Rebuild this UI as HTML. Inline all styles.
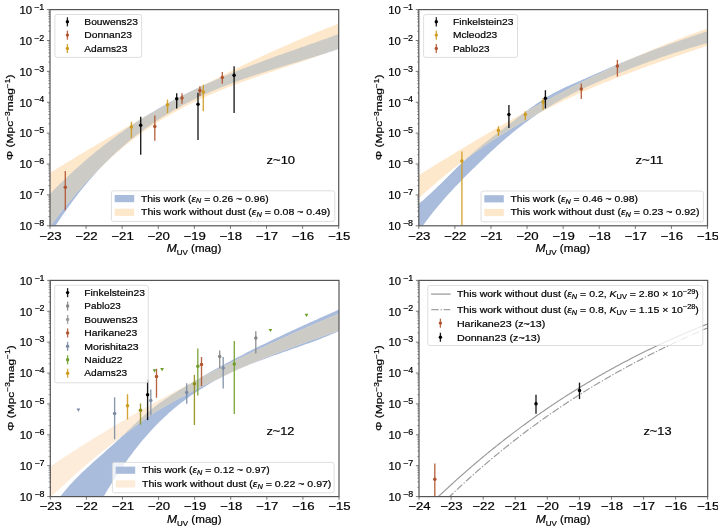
<!DOCTYPE html>
<html><head><meta charset="utf-8"><style>
html,body{margin:0;padding:0;background:#fff;width:718px;height:526px;overflow:hidden;font-family:"Liberation Sans",sans-serif;}
body{position:relative;filter:blur(0.3px);}
svg{display:block;}
</style></head><body>
<svg width="718" height="526" viewBox="0 0 718 526" style="position:absolute;left:0;top:0"><defs><clipPath id="clip1"><rect x="50" y="9.6" width="288.7" height="216.2"/></clipPath><clipPath id="bclip1"><path d="M48,196.03 L50,193.96 L52,191.9 L54,189.86 L56,187.84 L58,185.84 L60,183.86 L62,181.9 L64,179.96 L66,178.05 L68,176.15 L70,174.27 L72,172.41 L74,170.57 L76,168.75 L78,166.95 L80,165.17 L82,163.41 L84,161.67 L86,159.95 L88,158.24 L90,156.55 L92,154.88 L94,153.23 L96,151.6 L98,149.98 L100,148.38 L102,146.8 L104,145.24 L106,143.69 L108,142.16 L110,140.64 L112,139.15 L114,137.67 L116,136.2 L118,134.75 L120,133.32 L122,131.9 L124,130.5 L126,129.11 L128,127.74 L130,126.38 L132,125.04 L134,123.71 L136,122.4 L138,121.1 L140,119.81 L142,118.54 L144,117.28 L146,116.04 L148,114.81 L150,113.59 L152,112.39 L154,111.2 L156,110.02 L158,108.85 L160,107.7 L162,106.56 L164,105.43 L166,104.31 L168,103.21 L170,102.11 L172,101.03 L174,99.96 L176,98.9 L178,97.85 L180,96.81 L182,95.78 L184,94.77 L186,93.76 L188,92.76 L190,91.77 L192,90.8 L194,89.83 L196,88.87 L198,87.92 L200,86.98 L202,86.05 L204,85.12 L206,84.21 L208,83.3 L210,82.41 L212,81.52 L214,80.63 L216,79.76 L218,78.89 L220,78.03 L222,77.18 L224,76.34 L226,75.5 L228,74.67 L230,73.84 L232,73.02 L234,72.21 L236,71.4 L238,70.6 L240,69.81 L242,69.02 L244,68.24 L246,67.46 L248,66.68 L250,65.92 L252,65.15 L254,64.39 L256,63.64 L258,62.89 L260,62.14 L262,61.4 L264,60.66 L266,59.92 L268,59.19 L270,58.46 L272,57.73 L274,57.01 L276,56.29 L278,55.57 L280,54.85 L282,54.14 L284,53.43 L286,52.72 L288,52.01 L290,51.3 L292,50.6 L294,49.89 L296,49.19 L298,48.49 L300,47.79 L302,47.09 L304,46.38 L306,45.68 L308,44.98 L310,44.28 L312,43.58 L314,42.88 L316,42.18 L318,41.47 L320,40.77 L322,40.06 L324,39.36 L326,38.65 L328,37.94 L330,37.23 L332,36.51 L334,35.8 L336,35.08 L338,34.36 L340,33.64 L340.7,33.38 L340.7,48.26 L340,48.5 L338,49.17 L336,49.85 L334,50.52 L332,51.18 L330,51.84 L328,52.49 L326,53.14 L324,53.78 L322,54.41 L320,55.05 L318,55.67 L316,56.3 L314,56.92 L312,57.54 L310,58.15 L308,58.76 L306,59.37 L304,59.98 L302,60.59 L300,61.2 L298,61.8 L296,62.4 L294,63.01 L292,63.61 L290,64.21 L288,64.82 L286,65.42 L284,66.03 L282,66.64 L280,67.24 L278,67.86 L276,68.47 L274,69.09 L272,69.71 L270,70.33 L268,70.95 L266,71.58 L264,72.22 L262,72.86 L260,73.5 L258,74.15 L256,74.8 L254,75.46 L252,76.13 L250,76.8 L248,77.48 L246,78.17 L244,78.86 L242,79.56 L240,80.27 L238,80.99 L236,81.71 L234,82.44 L232,83.19 L230,83.94 L228,84.7 L226,85.47 L224,86.26 L222,87.05 L220,87.85 L218,88.67 L216,89.5 L214,90.34 L212,91.19 L210,92.05 L208,92.93 L206,93.81 L204,94.72 L202,95.63 L200,96.56 L198,97.51 L196,98.47 L194,99.44 L192,100.43 L190,101.44 L188,102.46 L186,103.49 L184,104.55 L182,105.62 L180,106.7 L178,107.81 L176,108.93 L174,110.07 L172,111.23 L170,112.41 L168,113.6 L166,114.82 L164,116.05 L162,117.31 L160,118.58 L158,119.87 L156,121.19 L154,122.53 L152,123.88 L150,125.26 L148,126.67 L146,128.09 L144,129.54 L142,131.01 L140,132.5 L138,134.02 L136,135.56 L134,137.13 L132,138.73 L130,140.35 L128,142.01 L126,143.69 L124,145.4 L122,147.13 L120,148.9 L118,150.7 L116,152.53 L114,154.4 L112,156.29 L110,158.22 L108,160.19 L106,162.18 L104,164.22 L102,166.28 L100,168.39 L98,170.53 L96,172.71 L94,174.93 L92,177.18 L90,179.48 L88,181.81 L86,184.19 L84,186.61 L82,189.07 L80,191.57 L78,194.11 L76,196.7 L74,199.34 L72,202.01 L70,204.74 L68,207.51 L66,210.32 L64,213.19 L62,216.1 L60,219.06 L58,222.07 L56,225.12 L54,228.18 L52,231.24 L50,234.3 L48,237.36Z"/></clipPath><clipPath id="clip2"><rect x="418.8" y="9.6" width="288.7" height="216.2"/></clipPath><clipPath id="bclip2"><path d="M416.8,205.4 L418.8,203.73 L420.8,202.06 L422.8,200.38 L424.8,198.64 L426.8,196.87 L428.8,195.07 L430.8,193.23 L432.8,191.36 L434.8,189.46 L436.8,187.54 L438.8,185.6 L440.8,183.64 L442.8,181.68 L444.8,179.7 L446.8,177.71 L448.8,175.73 L450.8,173.74 L452.8,171.76 L454.8,169.78 L456.8,167.82 L458.8,165.87 L460.8,163.94 L462.8,162.03 L464.8,160.14 L466.8,158.29 L468.8,156.46 L470.8,154.67 L472.8,152.91 L474.8,151.19 L476.8,149.49 L478.8,147.83 L480.8,146.19 L482.8,144.57 L484.8,142.98 L486.8,141.4 L488.8,139.84 L490.8,138.29 L492.8,136.75 L494.8,135.22 L496.8,133.7 L498.8,132.17 L500.8,130.65 L502.8,129.13 L504.8,127.6 L506.8,126.06 L508.8,124.52 L510.8,122.98 L512.8,121.44 L514.8,119.9 L516.8,118.36 L518.8,116.83 L520.8,115.31 L522.8,113.8 L524.8,112.29 L526.8,110.8 L528.8,109.33 L530.8,107.87 L532.8,106.43 L534.8,105.01 L536.8,103.62 L538.8,102.25 L540.8,100.91 L542.8,99.6 L544.8,98.32 L546.8,97.08 L548.8,95.87 L550.8,94.7 L552.8,93.57 L554.8,92.48 L556.8,91.43 L558.8,90.41 L560.8,89.42 L562.8,88.46 L564.8,87.52 L566.8,86.6 L568.8,85.7 L570.8,84.81 L572.8,83.93 L574.8,83.07 L576.8,82.2 L578.8,81.34 L580.8,80.48 L582.8,79.61 L584.8,78.74 L586.8,77.87 L588.8,76.99 L590.8,76.11 L592.8,75.23 L594.8,74.35 L596.8,73.47 L598.8,72.59 L600.8,71.71 L602.8,70.83 L604.8,69.95 L606.8,69.07 L608.8,68.2 L610.8,67.33 L612.8,66.47 L614.8,65.61 L616.8,64.75 L618.8,63.9 L620.8,63.06 L622.8,62.23 L624.8,61.4 L626.8,60.57 L628.8,59.75 L630.8,58.94 L632.8,58.13 L634.8,57.33 L636.8,56.54 L638.8,55.75 L640.8,54.96 L642.8,54.18 L644.8,53.41 L646.8,52.64 L648.8,51.87 L650.8,51.11 L652.8,50.36 L654.8,49.61 L656.8,48.86 L658.8,48.12 L660.8,47.38 L662.8,46.65 L664.8,45.92 L666.8,45.2 L668.8,44.48 L670.8,43.76 L672.8,43.05 L674.8,42.34 L676.8,41.63 L678.8,40.93 L680.8,40.23 L682.8,39.53 L684.8,38.84 L686.8,38.15 L688.8,37.47 L690.8,36.78 L692.8,36.1 L694.8,35.43 L696.8,34.75 L698.8,34.08 L700.8,33.41 L702.8,32.74 L704.8,32.08 L706.8,31.42 L708.8,30.75 L709.5,30.52 L709.5,42.51 L708.8,42.7 L706.8,43.24 L704.8,43.79 L702.8,44.34 L700.8,44.9 L698.8,45.47 L696.8,46.05 L694.8,46.63 L692.8,47.22 L690.8,47.82 L688.8,48.42 L686.8,49.03 L684.8,49.65 L682.8,50.27 L680.8,50.9 L678.8,51.54 L676.8,52.18 L674.8,52.83 L672.8,53.49 L670.8,54.15 L668.8,54.82 L666.8,55.5 L664.8,56.18 L662.8,56.86 L660.8,57.56 L658.8,58.25 L656.8,58.96 L654.8,59.67 L652.8,60.38 L650.8,61.1 L648.8,61.83 L646.8,62.56 L644.8,63.29 L642.8,64.04 L640.8,64.78 L638.8,65.53 L636.8,66.29 L634.8,67.05 L632.8,67.81 L630.8,68.58 L628.8,69.36 L626.8,70.14 L624.8,70.92 L622.8,71.71 L620.8,72.5 L618.8,73.3 L616.8,74.1 L614.8,74.9 L612.8,75.71 L610.8,76.52 L608.8,77.34 L606.8,78.17 L604.8,79 L602.8,79.84 L600.8,80.68 L598.8,81.54 L596.8,82.4 L594.8,83.27 L592.8,84.15 L590.8,85.04 L588.8,85.95 L586.8,86.86 L584.8,87.78 L582.8,88.72 L580.8,89.66 L578.8,90.62 L576.8,91.6 L574.8,92.59 L572.8,93.59 L570.8,94.6 L568.8,95.63 L566.8,96.68 L564.8,97.74 L562.8,98.82 L560.8,99.92 L558.8,101.03 L556.8,102.17 L554.8,103.32 L552.8,104.49 L550.8,105.67 L548.8,106.88 L546.8,108.11 L544.8,109.36 L542.8,110.63 L540.8,111.93 L538.8,113.24 L536.8,114.58 L534.8,115.94 L532.8,117.33 L530.8,118.74 L528.8,120.17 L526.8,121.63 L524.8,123.12 L522.8,124.63 L520.8,126.17 L518.8,127.73 L516.8,129.31 L514.8,130.92 L512.8,132.55 L510.8,134.21 L508.8,135.89 L506.8,137.58 L504.8,139.3 L502.8,141.04 L500.8,142.8 L498.8,144.57 L496.8,146.37 L494.8,148.18 L492.8,150.01 L490.8,151.86 L488.8,153.72 L486.8,155.59 L484.8,157.48 L482.8,159.39 L480.8,161.31 L478.8,163.24 L476.8,165.18 L474.8,167.13 L472.8,169.1 L470.8,171.08 L468.8,173.06 L466.8,175.06 L464.8,177.07 L462.8,179.09 L460.8,181.13 L458.8,183.19 L456.8,185.27 L454.8,187.37 L452.8,189.5 L450.8,191.65 L448.8,193.84 L446.8,196.05 L444.8,198.3 L442.8,200.58 L440.8,202.9 L438.8,205.25 L436.8,207.65 L434.8,210.1 L432.8,212.58 L430.8,215.12 L428.8,217.7 L426.8,220.33 L424.8,223.02 L422.8,225.76 L420.8,228.52 L418.8,231.27 L416.8,234.02Z"/></clipPath><clipPath id="clip3"><rect x="50.3" y="280.4" width="288.7" height="216.2"/></clipPath><clipPath id="bclip3"><path d="M48.3,511.56 L50.3,509.04 L52.3,506.52 L54.3,504.01 L56.3,501.49 L58.3,498.97 L60.3,496.45 L62.3,493.95 L64.3,491.5 L66.3,489.14 L68.3,486.84 L70.3,484.62 L72.3,482.45 L74.3,480.34 L76.3,478.28 L78.3,476.27 L80.3,474.3 L82.3,472.37 L84.3,470.47 L86.3,468.6 L88.3,466.76 L90.3,464.93 L92.3,463.12 L94.3,461.32 L96.3,459.52 L98.3,457.74 L100.3,455.96 L102.3,454.18 L104.3,452.4 L106.3,450.61 L108.3,448.83 L110.3,447.04 L112.3,445.24 L114.3,443.43 L116.3,441.6 L118.3,439.77 L120.3,437.91 L122.3,436.04 L124.3,434.15 L126.3,432.24 L128.3,430.33 L130.3,428.42 L132.3,426.5 L134.3,424.6 L136.3,422.7 L138.3,420.83 L140.3,418.97 L142.3,417.14 L144.3,415.34 L146.3,413.58 L148.3,411.86 L150.3,410.18 L152.3,408.56 L154.3,406.99 L156.3,405.46 L158.3,403.98 L160.3,402.54 L162.3,401.14 L164.3,399.78 L166.3,398.44 L168.3,397.13 L170.3,395.84 L172.3,394.57 L174.3,393.31 L176.3,392.07 L178.3,390.84 L180.3,389.61 L182.3,388.39 L184.3,387.18 L186.3,385.97 L188.3,384.78 L190.3,383.59 L192.3,382.4 L194.3,381.23 L196.3,380.06 L198.3,378.9 L200.3,377.74 L202.3,376.59 L204.3,375.45 L206.3,374.31 L208.3,373.19 L210.3,372.06 L212.3,370.95 L214.3,369.84 L216.3,368.73 L218.3,367.63 L220.3,366.54 L222.3,365.46 L224.3,364.38 L226.3,363.3 L228.3,362.23 L230.3,361.17 L232.3,360.11 L234.3,359.06 L236.3,358.02 L238.3,356.97 L240.3,355.94 L242.3,354.91 L244.3,353.88 L246.3,352.86 L248.3,351.85 L250.3,350.83 L252.3,349.83 L254.3,348.83 L256.3,347.83 L258.3,346.84 L260.3,345.85 L262.3,344.86 L264.3,343.88 L266.3,342.91 L268.3,341.94 L270.3,340.97 L272.3,340.01 L274.3,339.05 L276.3,338.09 L278.3,337.14 L280.3,336.19 L282.3,335.25 L284.3,334.3 L286.3,333.37 L288.3,332.43 L290.3,331.5 L292.3,330.57 L294.3,329.65 L296.3,328.73 L298.3,327.81 L300.3,326.89 L302.3,325.98 L304.3,325.07 L306.3,324.16 L308.3,323.25 L310.3,322.35 L312.3,321.45 L314.3,320.55 L316.3,319.65 L318.3,318.76 L320.3,317.86 L322.3,316.97 L324.3,316.09 L326.3,315.2 L328.3,314.31 L330.3,313.43 L332.3,312.55 L334.3,311.67 L336.3,310.79 L338.3,309.91 L340.3,309.04 L341,308.73 L341,330.22 L340.3,330.53 L338.3,331.42 L336.3,332.3 L334.3,333.17 L332.3,334.03 L330.3,334.86 L328.3,335.69 L326.3,336.51 L324.3,337.31 L322.3,338.1 L320.3,338.88 L318.3,339.65 L316.3,340.42 L314.3,341.17 L312.3,341.91 L310.3,342.65 L308.3,343.38 L306.3,344.11 L304.3,344.83 L302.3,345.54 L300.3,346.25 L298.3,346.96 L296.3,347.66 L294.3,348.36 L292.3,349.06 L290.3,349.75 L288.3,350.45 L286.3,351.14 L284.3,351.84 L282.3,352.54 L280.3,353.23 L278.3,353.93 L276.3,354.64 L274.3,355.34 L272.3,356.05 L270.3,356.77 L268.3,357.49 L266.3,358.22 L264.3,358.95 L262.3,359.69 L260.3,360.44 L258.3,361.19 L256.3,361.96 L254.3,362.73 L252.3,363.51 L250.3,364.31 L248.3,365.11 L246.3,365.93 L244.3,366.76 L242.3,367.6 L240.3,368.46 L238.3,369.33 L236.3,370.21 L234.3,371.12 L232.3,372.03 L230.3,372.97 L228.3,373.92 L226.3,374.89 L224.3,375.87 L222.3,376.88 L220.3,377.91 L218.3,378.95 L216.3,380.02 L214.3,381.11 L212.3,382.22 L210.3,383.35 L208.3,384.51 L206.3,385.69 L204.3,386.9 L202.3,388.13 L200.3,389.38 L198.3,390.67 L196.3,391.97 L194.3,393.31 L192.3,394.68 L190.3,396.07 L188.3,397.49 L186.3,398.95 L184.3,400.43 L182.3,401.95 L180.3,403.5 L178.3,405.09 L176.3,406.71 L174.3,408.37 L172.3,410.07 L170.3,411.8 L168.3,413.57 L166.3,415.38 L164.3,417.24 L162.3,419.13 L160.3,421.07 L158.3,423.05 L156.3,425.08 L154.3,427.15 L152.3,429.27 L150.3,431.43 L148.3,433.65 L146.3,435.91 L144.3,438.22 L142.3,440.59 L140.3,443 L138.3,445.47 L136.3,447.99 L134.3,450.57 L132.3,453.2 L130.3,455.88 L128.3,458.61 L126.3,461.39 L124.3,464.23 L122.3,467.12 L120.3,470.06 L118.3,473.05 L116.3,476.09 L114.3,479.18 L112.3,482.33 L110.3,485.52 L108.3,488.77 L106.3,492.06 L104.3,495.41 L102.3,498.8 L100.3,502.21 L98.3,505.62 L96.3,509.03 L94.3,512.44 L92.3,515.84 L90.3,519.25 L88.3,522.66 L86.3,526.07 L84.3,529.48 L82.3,532.88 L80.3,536.29 L78.3,539.7 L76.3,543.11 L74.3,546.52 L72.3,549.92 L70.3,553.33 L68.3,556.74 L66.3,560.15 L64.3,563.56 L62.3,566.96 L60.3,570.37 L58.3,573.78 L56.3,577.19 L54.3,580.6 L52.3,584.01 L50.3,587.41 L48.3,590.82Z"/></clipPath><clipPath id="clip4"><rect x="419" y="280.4" width="288.7" height="216.2"/></clipPath></defs><rect x="0" y="0" width="718" height="526" fill="#fff"/>
<g clip-path="url(#clip1)"><path d="M48,196.03 L50,193.96 L52,191.9 L54,189.86 L56,187.84 L58,185.84 L60,183.86 L62,181.9 L64,179.96 L66,178.05 L68,176.15 L70,174.27 L72,172.41 L74,170.57 L76,168.75 L78,166.95 L80,165.17 L82,163.41 L84,161.67 L86,159.95 L88,158.24 L90,156.55 L92,154.88 L94,153.23 L96,151.6 L98,149.98 L100,148.38 L102,146.8 L104,145.24 L106,143.69 L108,142.16 L110,140.64 L112,139.15 L114,137.67 L116,136.2 L118,134.75 L120,133.32 L122,131.9 L124,130.5 L126,129.11 L128,127.74 L130,126.38 L132,125.04 L134,123.71 L136,122.4 L138,121.1 L140,119.81 L142,118.54 L144,117.28 L146,116.04 L148,114.81 L150,113.59 L152,112.39 L154,111.2 L156,110.02 L158,108.85 L160,107.7 L162,106.56 L164,105.43 L166,104.31 L168,103.21 L170,102.11 L172,101.03 L174,99.96 L176,98.9 L178,97.85 L180,96.81 L182,95.78 L184,94.77 L186,93.76 L188,92.76 L190,91.77 L192,90.8 L194,89.83 L196,88.87 L198,87.92 L200,86.98 L202,86.05 L204,85.12 L206,84.21 L208,83.3 L210,82.41 L212,81.52 L214,80.63 L216,79.76 L218,78.89 L220,78.03 L222,77.18 L224,76.34 L226,75.5 L228,74.67 L230,73.84 L232,73.02 L234,72.21 L236,71.4 L238,70.6 L240,69.81 L242,69.02 L244,68.24 L246,67.46 L248,66.68 L250,65.92 L252,65.15 L254,64.39 L256,63.64 L258,62.89 L260,62.14 L262,61.4 L264,60.66 L266,59.92 L268,59.19 L270,58.46 L272,57.73 L274,57.01 L276,56.29 L278,55.57 L280,54.85 L282,54.14 L284,53.43 L286,52.72 L288,52.01 L290,51.3 L292,50.6 L294,49.89 L296,49.19 L298,48.49 L300,47.79 L302,47.09 L304,46.38 L306,45.68 L308,44.98 L310,44.28 L312,43.58 L314,42.88 L316,42.18 L318,41.47 L320,40.77 L322,40.06 L324,39.36 L326,38.65 L328,37.94 L330,37.23 L332,36.51 L334,35.8 L336,35.08 L338,34.36 L340,33.64 L340.7,33.38 L340.7,48.26 L340,48.5 L338,49.17 L336,49.85 L334,50.52 L332,51.18 L330,51.84 L328,52.49 L326,53.14 L324,53.78 L322,54.41 L320,55.05 L318,55.67 L316,56.3 L314,56.92 L312,57.54 L310,58.15 L308,58.76 L306,59.37 L304,59.98 L302,60.59 L300,61.2 L298,61.8 L296,62.4 L294,63.01 L292,63.61 L290,64.21 L288,64.82 L286,65.42 L284,66.03 L282,66.64 L280,67.24 L278,67.86 L276,68.47 L274,69.09 L272,69.71 L270,70.33 L268,70.95 L266,71.58 L264,72.22 L262,72.86 L260,73.5 L258,74.15 L256,74.8 L254,75.46 L252,76.13 L250,76.8 L248,77.48 L246,78.17 L244,78.86 L242,79.56 L240,80.27 L238,80.99 L236,81.71 L234,82.44 L232,83.19 L230,83.94 L228,84.7 L226,85.47 L224,86.26 L222,87.05 L220,87.85 L218,88.67 L216,89.5 L214,90.34 L212,91.19 L210,92.05 L208,92.93 L206,93.81 L204,94.72 L202,95.63 L200,96.56 L198,97.51 L196,98.47 L194,99.44 L192,100.43 L190,101.44 L188,102.46 L186,103.49 L184,104.55 L182,105.62 L180,106.7 L178,107.81 L176,108.93 L174,110.07 L172,111.23 L170,112.41 L168,113.6 L166,114.82 L164,116.05 L162,117.31 L160,118.58 L158,119.87 L156,121.19 L154,122.53 L152,123.88 L150,125.26 L148,126.67 L146,128.09 L144,129.54 L142,131.01 L140,132.5 L138,134.02 L136,135.56 L134,137.13 L132,138.73 L130,140.35 L128,142.01 L126,143.69 L124,145.4 L122,147.13 L120,148.9 L118,150.7 L116,152.53 L114,154.4 L112,156.29 L110,158.22 L108,160.19 L106,162.18 L104,164.22 L102,166.28 L100,168.39 L98,170.53 L96,172.71 L94,174.93 L92,177.18 L90,179.48 L88,181.81 L86,184.19 L84,186.61 L82,189.07 L80,191.57 L78,194.11 L76,196.7 L74,199.34 L72,202.01 L70,204.74 L68,207.51 L66,210.32 L64,213.19 L62,216.1 L60,219.06 L58,222.07 L56,225.12 L54,228.18 L52,231.24 L50,234.3 L48,237.36Z" fill="#a9bcdb"/><path d="M48,174.06 L50,172.83 L52,171.6 L54,170.38 L56,169.15 L58,167.93 L60,166.71 L62,165.49 L64,164.27 L66,163.05 L68,161.84 L70,160.63 L72,159.42 L74,158.21 L76,157 L78,155.8 L80,154.6 L82,153.4 L84,152.2 L86,151 L88,149.81 L90,148.62 L92,147.43 L94,146.24 L96,145.06 L98,143.87 L100,142.69 L102,141.51 L104,140.34 L106,139.16 L108,137.99 L110,136.82 L112,135.66 L114,134.49 L116,133.33 L118,132.17 L120,131.01 L122,129.86 L124,128.7 L126,127.55 L128,126.41 L130,125.26 L132,124.12 L134,122.98 L136,121.84 L138,120.71 L140,119.58 L142,118.45 L144,117.32 L146,116.2 L148,115.07 L150,113.96 L152,112.84 L154,111.73 L156,110.62 L158,109.51 L160,108.4 L162,107.3 L164,106.2 L166,105.11 L168,104.01 L170,102.92 L172,101.84 L174,100.75 L176,99.67 L178,98.59 L180,97.52 L182,96.45 L184,95.38 L186,94.31 L188,93.25 L190,92.19 L192,91.13 L194,90.08 L196,89.03 L198,87.98 L200,86.94 L202,85.9 L204,84.86 L206,83.82 L208,82.79 L210,81.77 L212,80.74 L214,79.72 L216,78.7 L218,77.69 L220,76.68 L222,75.67 L224,74.67 L226,73.67 L228,72.67 L230,71.68 L232,70.69 L234,69.7 L236,68.72 L238,67.74 L240,66.77 L242,65.8 L244,64.83 L246,63.87 L248,62.91 L250,61.95 L252,61 L254,60.05 L256,59.1 L258,58.16 L260,57.22 L262,56.29 L264,55.36 L266,54.43 L268,53.51 L270,52.59 L272,51.68 L274,50.77 L276,49.86 L278,48.96 L280,48.06 L282,47.17 L284,46.28 L286,45.39 L288,44.51 L290,43.63 L292,42.76 L294,41.89 L296,41.02 L298,40.16 L300,39.31 L302,38.45 L304,37.61 L306,36.76 L308,35.92 L310,35.09 L312,34.26 L314,33.43 L316,32.61 L318,31.79 L320,30.98 L322,30.17 L324,29.36 L326,28.56 L328,27.77 L330,26.98 L332,26.19 L334,25.41 L336,24.63 L338,23.86 L340,23.09 L340.7,22.82 L340.7,47.43 L340,47.71 L338,48.49 L336,49.27 L334,50.05 L332,50.81 L330,51.57 L328,52.33 L326,53.07 L324,53.81 L322,54.54 L320,55.27 L318,55.98 L316,56.7 L314,57.41 L312,58.11 L310,58.81 L308,59.51 L306,60.2 L304,60.88 L302,61.57 L300,62.25 L298,62.93 L296,63.6 L294,64.28 L292,64.95 L290,65.62 L288,66.29 L286,66.95 L284,67.62 L282,68.29 L280,68.96 L278,69.62 L276,70.29 L274,70.96 L272,71.63 L270,72.3 L268,72.98 L266,73.65 L264,74.33 L262,75.02 L260,75.7 L258,76.39 L256,77.08 L254,77.78 L252,78.48 L250,79.18 L248,79.89 L246,80.61 L244,81.33 L242,82.05 L240,82.79 L238,83.53 L236,84.27 L234,85.03 L232,85.79 L230,86.56 L228,87.33 L226,88.12 L224,88.91 L222,89.72 L220,90.53 L218,91.35 L216,92.18 L214,93.03 L212,93.88 L210,94.74 L208,95.62 L206,96.5 L204,97.4 L202,98.31 L200,99.24 L198,100.17 L196,101.12 L194,102.08 L192,103.06 L190,104.05 L188,105.05 L186,106.07 L184,107.1 L182,108.15 L180,109.21 L178,110.29 L176,111.39 L174,112.5 L172,113.63 L170,114.78 L168,115.94 L166,117.12 L164,118.32 L162,119.54 L160,120.78 L158,122.03 L156,123.31 L154,124.6 L152,125.91 L150,127.25 L148,128.6 L146,129.98 L144,131.37 L142,132.79 L140,134.23 L138,135.69 L136,137.18 L134,138.68 L132,140.21 L130,141.77 L128,143.34 L126,144.94 L124,146.57 L122,148.22 L120,149.89 L118,151.59 L116,153.31 L114,155.06 L112,156.84 L110,158.64 L108,160.47 L106,162.33 L104,164.21 L102,166.12 L100,168.06 L98,170.03 L96,172.02 L94,174.05 L92,176.1 L90,178.18 L88,180.3 L86,182.44 L84,184.61 L82,186.82 L80,189.05 L78,191.32 L76,193.61 L74,195.94 L72,198.31 L70,200.7 L68,203.13 L66,205.59 L64,208.08 L62,210.61 L60,213.17 L58,215.77 L56,218.4 L54,221.07 L52,223.77 L50,226.49 L48,229.22Z" fill="#fee8cc"/><g clip-path="url(#bclip1)"><path d="M48,174.06 L50,172.83 L52,171.6 L54,170.38 L56,169.15 L58,167.93 L60,166.71 L62,165.49 L64,164.27 L66,163.05 L68,161.84 L70,160.63 L72,159.42 L74,158.21 L76,157 L78,155.8 L80,154.6 L82,153.4 L84,152.2 L86,151 L88,149.81 L90,148.62 L92,147.43 L94,146.24 L96,145.06 L98,143.87 L100,142.69 L102,141.51 L104,140.34 L106,139.16 L108,137.99 L110,136.82 L112,135.66 L114,134.49 L116,133.33 L118,132.17 L120,131.01 L122,129.86 L124,128.7 L126,127.55 L128,126.41 L130,125.26 L132,124.12 L134,122.98 L136,121.84 L138,120.71 L140,119.58 L142,118.45 L144,117.32 L146,116.2 L148,115.07 L150,113.96 L152,112.84 L154,111.73 L156,110.62 L158,109.51 L160,108.4 L162,107.3 L164,106.2 L166,105.11 L168,104.01 L170,102.92 L172,101.84 L174,100.75 L176,99.67 L178,98.59 L180,97.52 L182,96.45 L184,95.38 L186,94.31 L188,93.25 L190,92.19 L192,91.13 L194,90.08 L196,89.03 L198,87.98 L200,86.94 L202,85.9 L204,84.86 L206,83.82 L208,82.79 L210,81.77 L212,80.74 L214,79.72 L216,78.7 L218,77.69 L220,76.68 L222,75.67 L224,74.67 L226,73.67 L228,72.67 L230,71.68 L232,70.69 L234,69.7 L236,68.72 L238,67.74 L240,66.77 L242,65.8 L244,64.83 L246,63.87 L248,62.91 L250,61.95 L252,61 L254,60.05 L256,59.1 L258,58.16 L260,57.22 L262,56.29 L264,55.36 L266,54.43 L268,53.51 L270,52.59 L272,51.68 L274,50.77 L276,49.86 L278,48.96 L280,48.06 L282,47.17 L284,46.28 L286,45.39 L288,44.51 L290,43.63 L292,42.76 L294,41.89 L296,41.02 L298,40.16 L300,39.31 L302,38.45 L304,37.61 L306,36.76 L308,35.92 L310,35.09 L312,34.26 L314,33.43 L316,32.61 L318,31.79 L320,30.98 L322,30.17 L324,29.36 L326,28.56 L328,27.77 L330,26.98 L332,26.19 L334,25.41 L336,24.63 L338,23.86 L340,23.09 L340.7,22.82 L340.7,47.43 L340,47.71 L338,48.49 L336,49.27 L334,50.05 L332,50.81 L330,51.57 L328,52.33 L326,53.07 L324,53.81 L322,54.54 L320,55.27 L318,55.98 L316,56.7 L314,57.41 L312,58.11 L310,58.81 L308,59.51 L306,60.2 L304,60.88 L302,61.57 L300,62.25 L298,62.93 L296,63.6 L294,64.28 L292,64.95 L290,65.62 L288,66.29 L286,66.95 L284,67.62 L282,68.29 L280,68.96 L278,69.62 L276,70.29 L274,70.96 L272,71.63 L270,72.3 L268,72.98 L266,73.65 L264,74.33 L262,75.02 L260,75.7 L258,76.39 L256,77.08 L254,77.78 L252,78.48 L250,79.18 L248,79.89 L246,80.61 L244,81.33 L242,82.05 L240,82.79 L238,83.53 L236,84.27 L234,85.03 L232,85.79 L230,86.56 L228,87.33 L226,88.12 L224,88.91 L222,89.72 L220,90.53 L218,91.35 L216,92.18 L214,93.03 L212,93.88 L210,94.74 L208,95.62 L206,96.5 L204,97.4 L202,98.31 L200,99.24 L198,100.17 L196,101.12 L194,102.08 L192,103.06 L190,104.05 L188,105.05 L186,106.07 L184,107.1 L182,108.15 L180,109.21 L178,110.29 L176,111.39 L174,112.5 L172,113.63 L170,114.78 L168,115.94 L166,117.12 L164,118.32 L162,119.54 L160,120.78 L158,122.03 L156,123.31 L154,124.6 L152,125.91 L150,127.25 L148,128.6 L146,129.98 L144,131.37 L142,132.79 L140,134.23 L138,135.69 L136,137.18 L134,138.68 L132,140.21 L130,141.77 L128,143.34 L126,144.94 L124,146.57 L122,148.22 L120,149.89 L118,151.59 L116,153.31 L114,155.06 L112,156.84 L110,158.64 L108,160.47 L106,162.33 L104,164.21 L102,166.12 L100,168.06 L98,170.03 L96,172.02 L94,174.05 L92,176.1 L90,178.18 L88,180.3 L86,182.44 L84,184.61 L82,186.82 L80,189.05 L78,191.32 L76,193.61 L74,195.94 L72,198.31 L70,200.7 L68,203.13 L66,205.59 L64,208.08 L62,210.61 L60,213.17 L58,215.77 L56,218.4 L54,221.07 L52,223.77 L50,226.49 L48,229.22Z" fill="#cccbc6"/></g></g>
<g clip-path="url(#clip2)"><path d="M416.8,205.4 L418.8,203.73 L420.8,202.06 L422.8,200.38 L424.8,198.64 L426.8,196.87 L428.8,195.07 L430.8,193.23 L432.8,191.36 L434.8,189.46 L436.8,187.54 L438.8,185.6 L440.8,183.64 L442.8,181.68 L444.8,179.7 L446.8,177.71 L448.8,175.73 L450.8,173.74 L452.8,171.76 L454.8,169.78 L456.8,167.82 L458.8,165.87 L460.8,163.94 L462.8,162.03 L464.8,160.14 L466.8,158.29 L468.8,156.46 L470.8,154.67 L472.8,152.91 L474.8,151.19 L476.8,149.49 L478.8,147.83 L480.8,146.19 L482.8,144.57 L484.8,142.98 L486.8,141.4 L488.8,139.84 L490.8,138.29 L492.8,136.75 L494.8,135.22 L496.8,133.7 L498.8,132.17 L500.8,130.65 L502.8,129.13 L504.8,127.6 L506.8,126.06 L508.8,124.52 L510.8,122.98 L512.8,121.44 L514.8,119.9 L516.8,118.36 L518.8,116.83 L520.8,115.31 L522.8,113.8 L524.8,112.29 L526.8,110.8 L528.8,109.33 L530.8,107.87 L532.8,106.43 L534.8,105.01 L536.8,103.62 L538.8,102.25 L540.8,100.91 L542.8,99.6 L544.8,98.32 L546.8,97.08 L548.8,95.87 L550.8,94.7 L552.8,93.57 L554.8,92.48 L556.8,91.43 L558.8,90.41 L560.8,89.42 L562.8,88.46 L564.8,87.52 L566.8,86.6 L568.8,85.7 L570.8,84.81 L572.8,83.93 L574.8,83.07 L576.8,82.2 L578.8,81.34 L580.8,80.48 L582.8,79.61 L584.8,78.74 L586.8,77.87 L588.8,76.99 L590.8,76.11 L592.8,75.23 L594.8,74.35 L596.8,73.47 L598.8,72.59 L600.8,71.71 L602.8,70.83 L604.8,69.95 L606.8,69.07 L608.8,68.2 L610.8,67.33 L612.8,66.47 L614.8,65.61 L616.8,64.75 L618.8,63.9 L620.8,63.06 L622.8,62.23 L624.8,61.4 L626.8,60.57 L628.8,59.75 L630.8,58.94 L632.8,58.13 L634.8,57.33 L636.8,56.54 L638.8,55.75 L640.8,54.96 L642.8,54.18 L644.8,53.41 L646.8,52.64 L648.8,51.87 L650.8,51.11 L652.8,50.36 L654.8,49.61 L656.8,48.86 L658.8,48.12 L660.8,47.38 L662.8,46.65 L664.8,45.92 L666.8,45.2 L668.8,44.48 L670.8,43.76 L672.8,43.05 L674.8,42.34 L676.8,41.63 L678.8,40.93 L680.8,40.23 L682.8,39.53 L684.8,38.84 L686.8,38.15 L688.8,37.47 L690.8,36.78 L692.8,36.1 L694.8,35.43 L696.8,34.75 L698.8,34.08 L700.8,33.41 L702.8,32.74 L704.8,32.08 L706.8,31.42 L708.8,30.75 L709.5,30.52 L709.5,42.51 L708.8,42.7 L706.8,43.24 L704.8,43.79 L702.8,44.34 L700.8,44.9 L698.8,45.47 L696.8,46.05 L694.8,46.63 L692.8,47.22 L690.8,47.82 L688.8,48.42 L686.8,49.03 L684.8,49.65 L682.8,50.27 L680.8,50.9 L678.8,51.54 L676.8,52.18 L674.8,52.83 L672.8,53.49 L670.8,54.15 L668.8,54.82 L666.8,55.5 L664.8,56.18 L662.8,56.86 L660.8,57.56 L658.8,58.25 L656.8,58.96 L654.8,59.67 L652.8,60.38 L650.8,61.1 L648.8,61.83 L646.8,62.56 L644.8,63.29 L642.8,64.04 L640.8,64.78 L638.8,65.53 L636.8,66.29 L634.8,67.05 L632.8,67.81 L630.8,68.58 L628.8,69.36 L626.8,70.14 L624.8,70.92 L622.8,71.71 L620.8,72.5 L618.8,73.3 L616.8,74.1 L614.8,74.9 L612.8,75.71 L610.8,76.52 L608.8,77.34 L606.8,78.17 L604.8,79 L602.8,79.84 L600.8,80.68 L598.8,81.54 L596.8,82.4 L594.8,83.27 L592.8,84.15 L590.8,85.04 L588.8,85.95 L586.8,86.86 L584.8,87.78 L582.8,88.72 L580.8,89.66 L578.8,90.62 L576.8,91.6 L574.8,92.59 L572.8,93.59 L570.8,94.6 L568.8,95.63 L566.8,96.68 L564.8,97.74 L562.8,98.82 L560.8,99.92 L558.8,101.03 L556.8,102.17 L554.8,103.32 L552.8,104.49 L550.8,105.67 L548.8,106.88 L546.8,108.11 L544.8,109.36 L542.8,110.63 L540.8,111.93 L538.8,113.24 L536.8,114.58 L534.8,115.94 L532.8,117.33 L530.8,118.74 L528.8,120.17 L526.8,121.63 L524.8,123.12 L522.8,124.63 L520.8,126.17 L518.8,127.73 L516.8,129.31 L514.8,130.92 L512.8,132.55 L510.8,134.21 L508.8,135.89 L506.8,137.58 L504.8,139.3 L502.8,141.04 L500.8,142.8 L498.8,144.57 L496.8,146.37 L494.8,148.18 L492.8,150.01 L490.8,151.86 L488.8,153.72 L486.8,155.59 L484.8,157.48 L482.8,159.39 L480.8,161.31 L478.8,163.24 L476.8,165.18 L474.8,167.13 L472.8,169.1 L470.8,171.08 L468.8,173.06 L466.8,175.06 L464.8,177.07 L462.8,179.09 L460.8,181.13 L458.8,183.19 L456.8,185.27 L454.8,187.37 L452.8,189.5 L450.8,191.65 L448.8,193.84 L446.8,196.05 L444.8,198.3 L442.8,200.58 L440.8,202.9 L438.8,205.25 L436.8,207.65 L434.8,210.1 L432.8,212.58 L430.8,215.12 L428.8,217.7 L426.8,220.33 L424.8,223.02 L422.8,225.76 L420.8,228.52 L418.8,231.27 L416.8,234.02Z" fill="#a9bcdb"/><path d="M416.8,176.55 L418.8,175.29 L420.8,174.04 L422.8,172.78 L424.8,171.53 L426.8,170.27 L428.8,169.03 L430.8,167.78 L432.8,166.53 L434.8,165.29 L436.8,164.05 L438.8,162.82 L440.8,161.58 L442.8,160.35 L444.8,159.12 L446.8,157.89 L448.8,156.67 L450.8,155.45 L452.8,154.23 L454.8,153.01 L456.8,151.8 L458.8,150.59 L460.8,149.38 L462.8,148.18 L464.8,146.97 L466.8,145.77 L468.8,144.58 L470.8,143.38 L472.8,142.19 L474.8,141 L476.8,139.82 L478.8,138.64 L480.8,137.46 L482.8,136.28 L484.8,135.11 L486.8,133.94 L488.8,132.77 L490.8,131.6 L492.8,130.44 L494.8,129.28 L496.8,128.13 L498.8,126.98 L500.8,125.83 L502.8,124.68 L504.8,123.54 L506.8,122.4 L508.8,121.27 L510.8,120.14 L512.8,119.01 L514.8,117.88 L516.8,116.76 L518.8,115.64 L520.8,114.52 L522.8,113.41 L524.8,112.3 L526.8,111.2 L528.8,110.1 L530.8,109 L532.8,107.9 L534.8,106.81 L536.8,105.72 L538.8,104.64 L540.8,103.56 L542.8,102.48 L544.8,101.41 L546.8,100.34 L548.8,99.28 L550.8,98.21 L552.8,97.16 L554.8,96.1 L556.8,95.05 L558.8,94 L560.8,92.96 L562.8,91.92 L564.8,90.89 L566.8,89.86 L568.8,88.83 L570.8,87.81 L572.8,86.79 L574.8,85.77 L576.8,84.76 L578.8,83.75 L580.8,82.75 L582.8,81.75 L584.8,80.76 L586.8,79.77 L588.8,78.78 L590.8,77.8 L592.8,76.82 L594.8,75.85 L596.8,74.88 L598.8,73.91 L600.8,72.95 L602.8,71.99 L604.8,71.04 L606.8,70.09 L608.8,69.15 L610.8,68.21 L612.8,67.28 L614.8,66.35 L616.8,65.42 L618.8,64.5 L620.8,63.58 L622.8,62.67 L624.8,61.76 L626.8,60.86 L628.8,59.96 L630.8,59.07 L632.8,58.18 L634.8,57.29 L636.8,56.41 L638.8,55.54 L640.8,54.67 L642.8,53.8 L644.8,52.94 L646.8,52.08 L648.8,51.23 L650.8,50.39 L652.8,49.54 L654.8,48.71 L656.8,47.88 L658.8,47.05 L660.8,46.23 L662.8,45.41 L664.8,44.6 L666.8,43.79 L668.8,42.99 L670.8,42.19 L672.8,41.4 L674.8,40.62 L676.8,39.83 L678.8,39.06 L680.8,38.29 L682.8,37.52 L684.8,36.76 L686.8,36.01 L688.8,35.26 L690.8,34.51 L692.8,33.77 L694.8,33.04 L696.8,32.31 L698.8,31.59 L700.8,30.87 L702.8,30.16 L704.8,29.45 L706.8,28.75 L708.8,28.05 L709.5,27.81 L709.5,45.01 L708.8,45.25 L706.8,45.92 L704.8,46.6 L702.8,47.27 L700.8,47.95 L698.8,48.62 L696.8,49.29 L694.8,49.97 L692.8,50.64 L690.8,51.32 L688.8,51.99 L686.8,52.67 L684.8,53.35 L682.8,54.03 L680.8,54.71 L678.8,55.39 L676.8,56.07 L674.8,56.75 L672.8,57.44 L670.8,58.13 L668.8,58.82 L666.8,59.51 L664.8,60.2 L662.8,60.9 L660.8,61.6 L658.8,62.3 L656.8,63 L654.8,63.7 L652.8,64.41 L650.8,65.12 L648.8,65.84 L646.8,66.55 L644.8,67.27 L642.8,68 L640.8,68.73 L638.8,69.46 L636.8,70.19 L634.8,70.93 L632.8,71.67 L630.8,72.42 L628.8,73.17 L626.8,73.92 L624.8,74.68 L622.8,75.45 L620.8,76.22 L618.8,76.99 L616.8,77.77 L614.8,78.55 L612.8,79.34 L610.8,80.13 L608.8,80.93 L606.8,81.73 L604.8,82.54 L602.8,83.36 L600.8,84.18 L598.8,85.01 L596.8,85.84 L594.8,86.68 L592.8,87.52 L590.8,88.37 L588.8,89.23 L586.8,90.1 L584.8,90.97 L582.8,91.85 L580.8,92.73 L578.8,93.62 L576.8,94.52 L574.8,95.43 L572.8,96.34 L570.8,97.27 L568.8,98.19 L566.8,99.13 L564.8,100.08 L562.8,101.03 L560.8,101.99 L558.8,102.96 L556.8,103.94 L554.8,104.92 L552.8,105.92 L550.8,106.92 L548.8,107.93 L546.8,108.95 L544.8,109.98 L542.8,111.02 L540.8,112.07 L538.8,113.13 L536.8,114.2 L534.8,115.27 L532.8,116.36 L530.8,117.46 L528.8,118.56 L526.8,119.68 L524.8,120.81 L522.8,121.94 L520.8,123.09 L518.8,124.25 L516.8,125.42 L514.8,126.59 L512.8,127.79 L510.8,128.99 L508.8,130.2 L506.8,131.42 L504.8,132.66 L502.8,133.9 L500.8,135.16 L498.8,136.43 L496.8,137.71 L494.8,139 L492.8,140.31 L490.8,141.63 L488.8,142.96 L486.8,144.3 L484.8,145.65 L482.8,147.02 L480.8,148.4 L478.8,149.79 L476.8,151.2 L474.8,152.62 L472.8,154.05 L470.8,155.5 L468.8,156.96 L466.8,158.43 L464.8,159.91 L462.8,161.41 L460.8,162.93 L458.8,164.45 L456.8,166 L454.8,167.55 L452.8,169.12 L450.8,170.71 L448.8,172.31 L446.8,173.92 L444.8,175.55 L442.8,177.19 L440.8,178.85 L438.8,180.53 L436.8,182.22 L434.8,183.92 L432.8,185.64 L430.8,187.38 L428.8,189.13 L426.8,190.9 L424.8,192.68 L422.8,194.48 L420.8,196.3 L418.8,198.12 L416.8,199.94Z" fill="#fee8cc"/><g clip-path="url(#bclip2)"><path d="M416.8,176.55 L418.8,175.29 L420.8,174.04 L422.8,172.78 L424.8,171.53 L426.8,170.27 L428.8,169.03 L430.8,167.78 L432.8,166.53 L434.8,165.29 L436.8,164.05 L438.8,162.82 L440.8,161.58 L442.8,160.35 L444.8,159.12 L446.8,157.89 L448.8,156.67 L450.8,155.45 L452.8,154.23 L454.8,153.01 L456.8,151.8 L458.8,150.59 L460.8,149.38 L462.8,148.18 L464.8,146.97 L466.8,145.77 L468.8,144.58 L470.8,143.38 L472.8,142.19 L474.8,141 L476.8,139.82 L478.8,138.64 L480.8,137.46 L482.8,136.28 L484.8,135.11 L486.8,133.94 L488.8,132.77 L490.8,131.6 L492.8,130.44 L494.8,129.28 L496.8,128.13 L498.8,126.98 L500.8,125.83 L502.8,124.68 L504.8,123.54 L506.8,122.4 L508.8,121.27 L510.8,120.14 L512.8,119.01 L514.8,117.88 L516.8,116.76 L518.8,115.64 L520.8,114.52 L522.8,113.41 L524.8,112.3 L526.8,111.2 L528.8,110.1 L530.8,109 L532.8,107.9 L534.8,106.81 L536.8,105.72 L538.8,104.64 L540.8,103.56 L542.8,102.48 L544.8,101.41 L546.8,100.34 L548.8,99.28 L550.8,98.21 L552.8,97.16 L554.8,96.1 L556.8,95.05 L558.8,94 L560.8,92.96 L562.8,91.92 L564.8,90.89 L566.8,89.86 L568.8,88.83 L570.8,87.81 L572.8,86.79 L574.8,85.77 L576.8,84.76 L578.8,83.75 L580.8,82.75 L582.8,81.75 L584.8,80.76 L586.8,79.77 L588.8,78.78 L590.8,77.8 L592.8,76.82 L594.8,75.85 L596.8,74.88 L598.8,73.91 L600.8,72.95 L602.8,71.99 L604.8,71.04 L606.8,70.09 L608.8,69.15 L610.8,68.21 L612.8,67.28 L614.8,66.35 L616.8,65.42 L618.8,64.5 L620.8,63.58 L622.8,62.67 L624.8,61.76 L626.8,60.86 L628.8,59.96 L630.8,59.07 L632.8,58.18 L634.8,57.29 L636.8,56.41 L638.8,55.54 L640.8,54.67 L642.8,53.8 L644.8,52.94 L646.8,52.08 L648.8,51.23 L650.8,50.39 L652.8,49.54 L654.8,48.71 L656.8,47.88 L658.8,47.05 L660.8,46.23 L662.8,45.41 L664.8,44.6 L666.8,43.79 L668.8,42.99 L670.8,42.19 L672.8,41.4 L674.8,40.62 L676.8,39.83 L678.8,39.06 L680.8,38.29 L682.8,37.52 L684.8,36.76 L686.8,36.01 L688.8,35.26 L690.8,34.51 L692.8,33.77 L694.8,33.04 L696.8,32.31 L698.8,31.59 L700.8,30.87 L702.8,30.16 L704.8,29.45 L706.8,28.75 L708.8,28.05 L709.5,27.81 L709.5,45.01 L708.8,45.25 L706.8,45.92 L704.8,46.6 L702.8,47.27 L700.8,47.95 L698.8,48.62 L696.8,49.29 L694.8,49.97 L692.8,50.64 L690.8,51.32 L688.8,51.99 L686.8,52.67 L684.8,53.35 L682.8,54.03 L680.8,54.71 L678.8,55.39 L676.8,56.07 L674.8,56.75 L672.8,57.44 L670.8,58.13 L668.8,58.82 L666.8,59.51 L664.8,60.2 L662.8,60.9 L660.8,61.6 L658.8,62.3 L656.8,63 L654.8,63.7 L652.8,64.41 L650.8,65.12 L648.8,65.84 L646.8,66.55 L644.8,67.27 L642.8,68 L640.8,68.73 L638.8,69.46 L636.8,70.19 L634.8,70.93 L632.8,71.67 L630.8,72.42 L628.8,73.17 L626.8,73.92 L624.8,74.68 L622.8,75.45 L620.8,76.22 L618.8,76.99 L616.8,77.77 L614.8,78.55 L612.8,79.34 L610.8,80.13 L608.8,80.93 L606.8,81.73 L604.8,82.54 L602.8,83.36 L600.8,84.18 L598.8,85.01 L596.8,85.84 L594.8,86.68 L592.8,87.52 L590.8,88.37 L588.8,89.23 L586.8,90.1 L584.8,90.97 L582.8,91.85 L580.8,92.73 L578.8,93.62 L576.8,94.52 L574.8,95.43 L572.8,96.34 L570.8,97.27 L568.8,98.19 L566.8,99.13 L564.8,100.08 L562.8,101.03 L560.8,101.99 L558.8,102.96 L556.8,103.94 L554.8,104.92 L552.8,105.92 L550.8,106.92 L548.8,107.93 L546.8,108.95 L544.8,109.98 L542.8,111.02 L540.8,112.07 L538.8,113.13 L536.8,114.2 L534.8,115.27 L532.8,116.36 L530.8,117.46 L528.8,118.56 L526.8,119.68 L524.8,120.81 L522.8,121.94 L520.8,123.09 L518.8,124.25 L516.8,125.42 L514.8,126.59 L512.8,127.79 L510.8,128.99 L508.8,130.2 L506.8,131.42 L504.8,132.66 L502.8,133.9 L500.8,135.16 L498.8,136.43 L496.8,137.71 L494.8,139 L492.8,140.31 L490.8,141.63 L488.8,142.96 L486.8,144.3 L484.8,145.65 L482.8,147.02 L480.8,148.4 L478.8,149.79 L476.8,151.2 L474.8,152.62 L472.8,154.05 L470.8,155.5 L468.8,156.96 L466.8,158.43 L464.8,159.91 L462.8,161.41 L460.8,162.93 L458.8,164.45 L456.8,166 L454.8,167.55 L452.8,169.12 L450.8,170.71 L448.8,172.31 L446.8,173.92 L444.8,175.55 L442.8,177.19 L440.8,178.85 L438.8,180.53 L436.8,182.22 L434.8,183.92 L432.8,185.64 L430.8,187.38 L428.8,189.13 L426.8,190.9 L424.8,192.68 L422.8,194.48 L420.8,196.3 L418.8,198.12 L416.8,199.94Z" fill="#cccbc6"/></g></g>
<g clip-path="url(#clip3)"><path d="M48.3,511.56 L50.3,509.04 L52.3,506.52 L54.3,504.01 L56.3,501.49 L58.3,498.97 L60.3,496.45 L62.3,493.95 L64.3,491.5 L66.3,489.14 L68.3,486.84 L70.3,484.62 L72.3,482.45 L74.3,480.34 L76.3,478.28 L78.3,476.27 L80.3,474.3 L82.3,472.37 L84.3,470.47 L86.3,468.6 L88.3,466.76 L90.3,464.93 L92.3,463.12 L94.3,461.32 L96.3,459.52 L98.3,457.74 L100.3,455.96 L102.3,454.18 L104.3,452.4 L106.3,450.61 L108.3,448.83 L110.3,447.04 L112.3,445.24 L114.3,443.43 L116.3,441.6 L118.3,439.77 L120.3,437.91 L122.3,436.04 L124.3,434.15 L126.3,432.24 L128.3,430.33 L130.3,428.42 L132.3,426.5 L134.3,424.6 L136.3,422.7 L138.3,420.83 L140.3,418.97 L142.3,417.14 L144.3,415.34 L146.3,413.58 L148.3,411.86 L150.3,410.18 L152.3,408.56 L154.3,406.99 L156.3,405.46 L158.3,403.98 L160.3,402.54 L162.3,401.14 L164.3,399.78 L166.3,398.44 L168.3,397.13 L170.3,395.84 L172.3,394.57 L174.3,393.31 L176.3,392.07 L178.3,390.84 L180.3,389.61 L182.3,388.39 L184.3,387.18 L186.3,385.97 L188.3,384.78 L190.3,383.59 L192.3,382.4 L194.3,381.23 L196.3,380.06 L198.3,378.9 L200.3,377.74 L202.3,376.59 L204.3,375.45 L206.3,374.31 L208.3,373.19 L210.3,372.06 L212.3,370.95 L214.3,369.84 L216.3,368.73 L218.3,367.63 L220.3,366.54 L222.3,365.46 L224.3,364.38 L226.3,363.3 L228.3,362.23 L230.3,361.17 L232.3,360.11 L234.3,359.06 L236.3,358.02 L238.3,356.97 L240.3,355.94 L242.3,354.91 L244.3,353.88 L246.3,352.86 L248.3,351.85 L250.3,350.83 L252.3,349.83 L254.3,348.83 L256.3,347.83 L258.3,346.84 L260.3,345.85 L262.3,344.86 L264.3,343.88 L266.3,342.91 L268.3,341.94 L270.3,340.97 L272.3,340.01 L274.3,339.05 L276.3,338.09 L278.3,337.14 L280.3,336.19 L282.3,335.25 L284.3,334.3 L286.3,333.37 L288.3,332.43 L290.3,331.5 L292.3,330.57 L294.3,329.65 L296.3,328.73 L298.3,327.81 L300.3,326.89 L302.3,325.98 L304.3,325.07 L306.3,324.16 L308.3,323.25 L310.3,322.35 L312.3,321.45 L314.3,320.55 L316.3,319.65 L318.3,318.76 L320.3,317.86 L322.3,316.97 L324.3,316.09 L326.3,315.2 L328.3,314.31 L330.3,313.43 L332.3,312.55 L334.3,311.67 L336.3,310.79 L338.3,309.91 L340.3,309.04 L341,308.73 L341,330.22 L340.3,330.53 L338.3,331.42 L336.3,332.3 L334.3,333.17 L332.3,334.03 L330.3,334.86 L328.3,335.69 L326.3,336.51 L324.3,337.31 L322.3,338.1 L320.3,338.88 L318.3,339.65 L316.3,340.42 L314.3,341.17 L312.3,341.91 L310.3,342.65 L308.3,343.38 L306.3,344.11 L304.3,344.83 L302.3,345.54 L300.3,346.25 L298.3,346.96 L296.3,347.66 L294.3,348.36 L292.3,349.06 L290.3,349.75 L288.3,350.45 L286.3,351.14 L284.3,351.84 L282.3,352.54 L280.3,353.23 L278.3,353.93 L276.3,354.64 L274.3,355.34 L272.3,356.05 L270.3,356.77 L268.3,357.49 L266.3,358.22 L264.3,358.95 L262.3,359.69 L260.3,360.44 L258.3,361.19 L256.3,361.96 L254.3,362.73 L252.3,363.51 L250.3,364.31 L248.3,365.11 L246.3,365.93 L244.3,366.76 L242.3,367.6 L240.3,368.46 L238.3,369.33 L236.3,370.21 L234.3,371.12 L232.3,372.03 L230.3,372.97 L228.3,373.92 L226.3,374.89 L224.3,375.87 L222.3,376.88 L220.3,377.91 L218.3,378.95 L216.3,380.02 L214.3,381.11 L212.3,382.22 L210.3,383.35 L208.3,384.51 L206.3,385.69 L204.3,386.9 L202.3,388.13 L200.3,389.38 L198.3,390.67 L196.3,391.97 L194.3,393.31 L192.3,394.68 L190.3,396.07 L188.3,397.49 L186.3,398.95 L184.3,400.43 L182.3,401.95 L180.3,403.5 L178.3,405.09 L176.3,406.71 L174.3,408.37 L172.3,410.07 L170.3,411.8 L168.3,413.57 L166.3,415.38 L164.3,417.24 L162.3,419.13 L160.3,421.07 L158.3,423.05 L156.3,425.08 L154.3,427.15 L152.3,429.27 L150.3,431.43 L148.3,433.65 L146.3,435.91 L144.3,438.22 L142.3,440.59 L140.3,443 L138.3,445.47 L136.3,447.99 L134.3,450.57 L132.3,453.2 L130.3,455.88 L128.3,458.61 L126.3,461.39 L124.3,464.23 L122.3,467.12 L120.3,470.06 L118.3,473.05 L116.3,476.09 L114.3,479.18 L112.3,482.33 L110.3,485.52 L108.3,488.77 L106.3,492.06 L104.3,495.41 L102.3,498.8 L100.3,502.21 L98.3,505.62 L96.3,509.03 L94.3,512.44 L92.3,515.84 L90.3,519.25 L88.3,522.66 L86.3,526.07 L84.3,529.48 L82.3,532.88 L80.3,536.29 L78.3,539.7 L76.3,543.11 L74.3,546.52 L72.3,549.92 L70.3,553.33 L68.3,556.74 L66.3,560.15 L64.3,563.56 L62.3,566.96 L60.3,570.37 L58.3,573.78 L56.3,577.19 L54.3,580.6 L52.3,584.01 L50.3,587.41 L48.3,590.82Z" fill="#a9bcdb"/><path d="M48.3,467.67 L50.3,466.34 L52.3,465.01 L54.3,463.68 L56.3,462.36 L58.3,461.04 L60.3,459.73 L62.3,458.42 L64.3,457.12 L66.3,455.82 L68.3,454.52 L70.3,453.23 L72.3,451.94 L74.3,450.66 L76.3,449.38 L78.3,448.11 L80.3,446.84 L82.3,445.57 L84.3,444.31 L86.3,443.06 L88.3,441.81 L90.3,440.56 L92.3,439.32 L94.3,438.08 L96.3,436.84 L98.3,435.61 L100.3,434.39 L102.3,433.16 L104.3,431.95 L106.3,430.73 L108.3,429.52 L110.3,428.32 L112.3,427.12 L114.3,425.92 L116.3,424.73 L118.3,423.54 L120.3,422.35 L122.3,421.17 L124.3,419.99 L126.3,418.82 L128.3,417.65 L130.3,416.49 L132.3,415.33 L134.3,414.17 L136.3,413.02 L138.3,411.87 L140.3,410.72 L142.3,409.58 L144.3,408.44 L146.3,407.31 L148.3,406.18 L150.3,405.05 L152.3,403.93 L154.3,402.81 L156.3,401.7 L158.3,400.59 L160.3,399.48 L162.3,398.38 L164.3,397.28 L166.3,396.18 L168.3,395.09 L170.3,394 L172.3,392.92 L174.3,391.84 L176.3,390.76 L178.3,389.68 L180.3,388.61 L182.3,387.55 L184.3,386.48 L186.3,385.42 L188.3,384.37 L190.3,383.31 L192.3,382.26 L194.3,381.22 L196.3,380.17 L198.3,379.13 L200.3,378.1 L202.3,377.07 L204.3,376.04 L206.3,375.01 L208.3,373.99 L210.3,372.97 L212.3,371.96 L214.3,370.94 L216.3,369.93 L218.3,368.93 L220.3,367.93 L222.3,366.93 L224.3,365.93 L226.3,364.94 L228.3,363.95 L230.3,362.96 L232.3,361.98 L234.3,361 L236.3,360.02 L238.3,359.05 L240.3,358.08 L242.3,357.11 L244.3,356.14 L246.3,355.18 L248.3,354.22 L250.3,353.27 L252.3,352.31 L254.3,351.37 L256.3,350.42 L258.3,349.47 L260.3,348.53 L262.3,347.6 L264.3,346.66 L266.3,345.73 L268.3,344.8 L270.3,343.87 L272.3,342.95 L274.3,342.03 L276.3,341.11 L278.3,340.2 L280.3,339.28 L282.3,338.37 L284.3,337.47 L286.3,336.56 L288.3,335.66 L290.3,334.76 L292.3,333.87 L294.3,332.97 L296.3,332.08 L298.3,331.19 L300.3,330.31 L302.3,329.42 L304.3,328.54 L306.3,327.67 L308.3,326.79 L310.3,325.92 L312.3,325.05 L314.3,324.18 L316.3,323.31 L318.3,322.45 L320.3,321.59 L322.3,320.73 L324.3,319.88 L326.3,319.02 L328.3,318.17 L330.3,317.33 L332.3,316.48 L334.3,315.64 L336.3,314.79 L338.3,313.96 L340.3,313.12 L341,312.82 L341,329.93 L340.3,330.17 L338.3,330.83 L336.3,331.5 L334.3,332.17 L332.3,332.85 L330.3,333.53 L328.3,334.21 L326.3,334.89 L324.3,335.58 L322.3,336.28 L320.3,336.97 L318.3,337.67 L316.3,338.38 L314.3,339.08 L312.3,339.79 L310.3,340.51 L308.3,341.23 L306.3,341.95 L304.3,342.68 L302.3,343.41 L300.3,344.15 L298.3,344.89 L296.3,345.63 L294.3,346.38 L292.3,347.13 L290.3,347.89 L288.3,348.65 L286.3,349.42 L284.3,350.19 L282.3,350.96 L280.3,351.74 L278.3,352.53 L276.3,353.32 L274.3,354.11 L272.3,354.91 L270.3,355.71 L268.3,356.52 L266.3,357.34 L264.3,358.15 L262.3,358.98 L260.3,359.81 L258.3,360.64 L256.3,361.48 L254.3,362.33 L252.3,363.18 L250.3,364.03 L248.3,364.89 L246.3,365.76 L244.3,366.63 L242.3,367.51 L240.3,368.39 L238.3,369.28 L236.3,370.18 L234.3,371.08 L232.3,371.98 L230.3,372.9 L228.3,373.82 L226.3,374.74 L224.3,375.67 L222.3,376.61 L220.3,377.55 L218.3,378.5 L216.3,379.45 L214.3,380.42 L212.3,381.38 L210.3,382.36 L208.3,383.34 L206.3,384.33 L204.3,385.32 L202.3,386.32 L200.3,387.33 L198.3,388.34 L196.3,389.36 L194.3,390.39 L192.3,391.42 L190.3,392.46 L188.3,393.51 L186.3,394.57 L184.3,395.63 L182.3,396.7 L180.3,397.78 L178.3,398.86 L176.3,399.95 L174.3,401.05 L172.3,402.15 L170.3,403.27 L168.3,404.39 L166.3,405.52 L164.3,406.68 L162.3,407.86 L160.3,409.07 L158.3,410.31 L156.3,411.57 L154.3,412.87 L152.3,414.19 L150.3,415.53 L148.3,416.89 L146.3,418.27 L144.3,419.67 L142.3,421.09 L140.3,422.53 L138.3,423.98 L136.3,425.44 L134.3,426.91 L132.3,428.4 L130.3,429.89 L128.3,431.4 L126.3,432.91 L124.3,434.44 L122.3,435.97 L120.3,437.51 L118.3,439.05 L116.3,440.6 L114.3,442.16 L112.3,443.72 L110.3,445.28 L108.3,446.85 L106.3,448.42 L104.3,449.99 L102.3,451.58 L100.3,453.17 L98.3,454.77 L96.3,456.38 L94.3,458.01 L92.3,459.65 L90.3,461.3 L88.3,462.98 L86.3,464.67 L84.3,466.39 L82.3,468.13 L80.3,469.89 L78.3,471.68 L76.3,473.5 L74.3,475.33 L72.3,477.17 L70.3,479.02 L68.3,480.88 L66.3,482.74 L64.3,484.6 L62.3,486.45 L60.3,488.28 L58.3,490.1 L56.3,491.9 L54.3,493.68 L52.3,495.42 L50.3,497.15 L48.3,498.88Z" fill="#fdecd9"/><g clip-path="url(#bclip3)"><path d="M48.3,467.67 L50.3,466.34 L52.3,465.01 L54.3,463.68 L56.3,462.36 L58.3,461.04 L60.3,459.73 L62.3,458.42 L64.3,457.12 L66.3,455.82 L68.3,454.52 L70.3,453.23 L72.3,451.94 L74.3,450.66 L76.3,449.38 L78.3,448.11 L80.3,446.84 L82.3,445.57 L84.3,444.31 L86.3,443.06 L88.3,441.81 L90.3,440.56 L92.3,439.32 L94.3,438.08 L96.3,436.84 L98.3,435.61 L100.3,434.39 L102.3,433.16 L104.3,431.95 L106.3,430.73 L108.3,429.52 L110.3,428.32 L112.3,427.12 L114.3,425.92 L116.3,424.73 L118.3,423.54 L120.3,422.35 L122.3,421.17 L124.3,419.99 L126.3,418.82 L128.3,417.65 L130.3,416.49 L132.3,415.33 L134.3,414.17 L136.3,413.02 L138.3,411.87 L140.3,410.72 L142.3,409.58 L144.3,408.44 L146.3,407.31 L148.3,406.18 L150.3,405.05 L152.3,403.93 L154.3,402.81 L156.3,401.7 L158.3,400.59 L160.3,399.48 L162.3,398.38 L164.3,397.28 L166.3,396.18 L168.3,395.09 L170.3,394 L172.3,392.92 L174.3,391.84 L176.3,390.76 L178.3,389.68 L180.3,388.61 L182.3,387.55 L184.3,386.48 L186.3,385.42 L188.3,384.37 L190.3,383.31 L192.3,382.26 L194.3,381.22 L196.3,380.17 L198.3,379.13 L200.3,378.1 L202.3,377.07 L204.3,376.04 L206.3,375.01 L208.3,373.99 L210.3,372.97 L212.3,371.96 L214.3,370.94 L216.3,369.93 L218.3,368.93 L220.3,367.93 L222.3,366.93 L224.3,365.93 L226.3,364.94 L228.3,363.95 L230.3,362.96 L232.3,361.98 L234.3,361 L236.3,360.02 L238.3,359.05 L240.3,358.08 L242.3,357.11 L244.3,356.14 L246.3,355.18 L248.3,354.22 L250.3,353.27 L252.3,352.31 L254.3,351.37 L256.3,350.42 L258.3,349.47 L260.3,348.53 L262.3,347.6 L264.3,346.66 L266.3,345.73 L268.3,344.8 L270.3,343.87 L272.3,342.95 L274.3,342.03 L276.3,341.11 L278.3,340.2 L280.3,339.28 L282.3,338.37 L284.3,337.47 L286.3,336.56 L288.3,335.66 L290.3,334.76 L292.3,333.87 L294.3,332.97 L296.3,332.08 L298.3,331.19 L300.3,330.31 L302.3,329.42 L304.3,328.54 L306.3,327.67 L308.3,326.79 L310.3,325.92 L312.3,325.05 L314.3,324.18 L316.3,323.31 L318.3,322.45 L320.3,321.59 L322.3,320.73 L324.3,319.88 L326.3,319.02 L328.3,318.17 L330.3,317.33 L332.3,316.48 L334.3,315.64 L336.3,314.79 L338.3,313.96 L340.3,313.12 L341,312.82 L341,329.93 L340.3,330.17 L338.3,330.83 L336.3,331.5 L334.3,332.17 L332.3,332.85 L330.3,333.53 L328.3,334.21 L326.3,334.89 L324.3,335.58 L322.3,336.28 L320.3,336.97 L318.3,337.67 L316.3,338.38 L314.3,339.08 L312.3,339.79 L310.3,340.51 L308.3,341.23 L306.3,341.95 L304.3,342.68 L302.3,343.41 L300.3,344.15 L298.3,344.89 L296.3,345.63 L294.3,346.38 L292.3,347.13 L290.3,347.89 L288.3,348.65 L286.3,349.42 L284.3,350.19 L282.3,350.96 L280.3,351.74 L278.3,352.53 L276.3,353.32 L274.3,354.11 L272.3,354.91 L270.3,355.71 L268.3,356.52 L266.3,357.34 L264.3,358.15 L262.3,358.98 L260.3,359.81 L258.3,360.64 L256.3,361.48 L254.3,362.33 L252.3,363.18 L250.3,364.03 L248.3,364.89 L246.3,365.76 L244.3,366.63 L242.3,367.51 L240.3,368.39 L238.3,369.28 L236.3,370.18 L234.3,371.08 L232.3,371.98 L230.3,372.9 L228.3,373.82 L226.3,374.74 L224.3,375.67 L222.3,376.61 L220.3,377.55 L218.3,378.5 L216.3,379.45 L214.3,380.42 L212.3,381.38 L210.3,382.36 L208.3,383.34 L206.3,384.33 L204.3,385.32 L202.3,386.32 L200.3,387.33 L198.3,388.34 L196.3,389.36 L194.3,390.39 L192.3,391.42 L190.3,392.46 L188.3,393.51 L186.3,394.57 L184.3,395.63 L182.3,396.7 L180.3,397.78 L178.3,398.86 L176.3,399.95 L174.3,401.05 L172.3,402.15 L170.3,403.27 L168.3,404.39 L166.3,405.52 L164.3,406.68 L162.3,407.86 L160.3,409.07 L158.3,410.31 L156.3,411.57 L154.3,412.87 L152.3,414.19 L150.3,415.53 L148.3,416.89 L146.3,418.27 L144.3,419.67 L142.3,421.09 L140.3,422.53 L138.3,423.98 L136.3,425.44 L134.3,426.91 L132.3,428.4 L130.3,429.89 L128.3,431.4 L126.3,432.91 L124.3,434.44 L122.3,435.97 L120.3,437.51 L118.3,439.05 L116.3,440.6 L114.3,442.16 L112.3,443.72 L110.3,445.28 L108.3,446.85 L106.3,448.42 L104.3,449.99 L102.3,451.58 L100.3,453.17 L98.3,454.77 L96.3,456.38 L94.3,458.01 L92.3,459.65 L90.3,461.3 L88.3,462.98 L86.3,464.67 L84.3,466.39 L82.3,468.13 L80.3,469.89 L78.3,471.68 L76.3,473.5 L74.3,475.33 L72.3,477.17 L70.3,479.02 L68.3,480.88 L66.3,482.74 L64.3,484.6 L62.3,486.45 L60.3,488.28 L58.3,490.1 L56.3,491.9 L54.3,493.68 L52.3,495.42 L50.3,497.15 L48.3,498.88Z" fill="#cccbc6"/></g></g>
<g clip-path="url(#clip4)"><path d="M436,498.88 L437,497.93 L438,496.98 L439,496.03 L440,495.09 L441,494.15 L442,493.21 L443,492.27 L444,491.34 L445,490.41 L446,489.48 L447,488.55 L448,487.63 L449,486.71 L450,485.79 L451,484.88 L452,483.97 L453,483.06 L454,482.15 L455,481.25 L456,480.34 L457,479.44 L458,478.55 L459,477.65 L460,476.76 L461,475.87 L462,474.99 L463,474.11 L464,473.22 L465,472.35 L466,471.47 L467,470.6 L468,469.73 L469,468.86 L470,467.99 L471,467.13 L472,466.27 L473,465.41 L474,464.56 L475,463.7 L476,462.85 L477,462.01 L478,461.16 L479,460.32 L480,459.48 L481,458.64 L482,457.81 L483,456.97 L484,456.14 L485,455.32 L486,454.49 L487,453.67 L488,452.85 L489,452.03 L490,451.21 L491,450.4 L492,449.59 L493,448.78 L494,447.98 L495,447.18 L496,446.38 L497,445.58 L498,444.78 L499,443.99 L500,443.2 L501,442.41 L502,441.62 L503,440.84 L504,440.06 L505,439.28 L506,438.5 L507,437.73 L508,436.96 L509,436.19 L510,435.42 L511,434.66 L512,433.89 L513,433.13 L514,432.38 L515,431.62 L516,430.87 L517,430.12 L518,429.37 L519,428.62 L520,427.88 L521,427.14 L522,426.4 L523,425.66 L524,424.93 L525,424.2 L526,423.47 L527,422.74 L528,422.01 L529,421.29 L530,420.57 L531,419.85 L532,419.14 L533,418.42 L534,417.71 L535,417 L536,416.29 L537,415.59 L538,414.89 L539,414.19 L540,413.49 L541,412.79 L542,412.1 L543,411.41 L544,410.72 L545,410.03 L546,409.34 L547,408.66 L548,407.98 L549,407.3 L550,406.63 L551,405.95 L552,405.28 L553,404.61 L554,403.94 L555,403.28 L556,402.61 L557,401.95 L558,401.29 L559,400.64 L560,399.98 L561,399.33 L562,398.68 L563,398.03 L564,397.38 L565,396.74 L566,396.1 L567,395.46 L568,394.82 L569,394.18 L570,393.55 L571,392.92 L572,392.29 L573,391.66 L574,391.03 L575,390.41 L576,389.79 L577,389.17 L578,388.55 L579,387.94 L580,387.32 L581,386.71 L582,386.1 L583,385.5 L584,384.89 L585,384.29 L586,383.69 L587,383.09 L588,382.49 L589,381.89 L590,381.3 L591,380.71 L592,380.12 L593,379.53 L594,378.95 L595,378.36 L596,377.78 L597,377.2 L598,376.62 L599,376.05 L600,375.47 L601,374.9 L602,374.33 L603,373.76 L604,373.2 L605,372.63 L606,372.07 L607,371.51 L608,370.95 L609,370.4 L610,369.84 L611,369.29 L612,368.74 L613,368.19 L614,367.64 L615,367.09 L616,366.55 L617,366.01 L618,365.47 L619,364.93 L620,364.39 L621,363.86 L622,363.33 L623,362.8 L624,362.27 L625,361.74 L626,361.21 L627,360.69 L628,360.17 L629,359.65 L630,359.13 L631,358.61 L632,358.1 L633,357.59 L634,357.08 L635,356.57 L636,356.06 L637,355.55 L638,355.05 L639,354.55 L640,354.05 L641,353.55 L642,353.05 L643,352.55 L644,352.06 L645,351.57 L646,351.08 L647,350.59 L648,350.1 L649,349.62 L650,349.13 L651,348.65 L652,348.17 L653,347.69 L654,347.22 L655,346.74 L656,346.27 L657,345.8 L658,345.33 L659,344.86 L660,344.39 L661,343.92 L662,343.46 L663,343 L664,342.54 L665,342.08 L666,341.62 L667,341.17 L668,340.71 L669,340.26 L670,339.81 L671,339.36 L672,338.91 L673,338.47 L674,338.02 L675,337.58 L676,337.14 L677,336.7 L678,336.26 L679,335.82 L680,335.39 L681,334.95 L682,334.52 L683,334.09 L684,333.66 L685,333.23 L686,332.81 L687,332.38 L688,331.96 L689,331.54 L690,331.12 L691,330.7 L692,330.28 L693,329.87 L694,329.45 L695,329.04 L696,328.63 L697,328.22 L698,327.81 L699,327.4 L700,327 L701,326.59 L702,326.19 L703,325.79 L704,325.39 L705,324.99 L706,324.6 L707,324.2 L708,323.81" fill="none" stroke="#999" stroke-width="1.15"/><path d="M448,498.1 L449,497.14 L450,496.18 L451,495.23 L452,494.27 L453,493.33 L454,492.38 L455,491.44 L456,490.5 L457,489.56 L458,488.63 L459,487.7 L460,486.77 L461,485.84 L462,484.92 L463,484 L464,483.08 L465,482.17 L466,481.26 L467,480.35 L468,479.45 L469,478.54 L470,477.65 L471,476.75 L472,475.85 L473,474.96 L474,474.08 L475,473.19 L476,472.31 L477,471.43 L478,470.55 L479,469.68 L480,468.81 L481,467.94 L482,467.07 L483,466.21 L484,465.35 L485,464.49 L486,463.63 L487,462.78 L488,461.93 L489,461.08 L490,460.24 L491,459.4 L492,458.56 L493,457.72 L494,456.89 L495,456.06 L496,455.23 L497,454.41 L498,453.58 L499,452.76 L500,451.94 L501,451.13 L502,450.32 L503,449.51 L504,448.7 L505,447.89 L506,447.09 L507,446.29 L508,445.5 L509,444.7 L510,443.91 L511,443.12 L512,442.33 L513,441.55 L514,440.77 L515,439.99 L516,439.21 L517,438.44 L518,437.66 L519,436.89 L520,436.13 L521,435.36 L522,434.6 L523,433.84 L524,433.08 L525,432.33 L526,431.58 L527,430.83 L528,430.08 L529,429.33 L530,428.59 L531,427.85 L532,427.11 L533,426.38 L534,425.65 L535,424.92 L536,424.19 L537,423.46 L538,422.74 L539,422.02 L540,421.3 L541,420.58 L542,419.87 L543,419.15 L544,418.44 L545,417.74 L546,417.03 L547,416.33 L548,415.63 L549,414.93 L550,414.23 L551,413.54 L552,412.85 L553,412.16 L554,411.47 L555,410.79 L556,410.1 L557,409.42 L558,408.74 L559,408.07 L560,407.39 L561,406.72 L562,406.05 L563,405.39 L564,404.72 L565,404.06 L566,403.4 L567,402.74 L568,402.08 L569,401.43 L570,400.77 L571,400.12 L572,399.48 L573,398.83 L574,398.19 L575,397.54 L576,396.9 L577,396.27 L578,395.63 L579,395 L580,394.36 L581,393.73 L582,393.11 L583,392.48 L584,391.86 L585,391.24 L586,390.62 L587,390 L588,389.38 L589,388.77 L590,388.16 L591,387.55 L592,386.94 L593,386.33 L594,385.73 L595,385.13 L596,384.53 L597,383.93 L598,383.33 L599,382.74 L600,382.15 L601,381.56 L602,380.97 L603,380.38 L604,379.8 L605,379.21 L606,378.63 L607,378.05 L608,377.47 L609,376.9 L610,376.32 L611,375.75 L612,375.18 L613,374.61 L614,374.05 L615,373.48 L616,372.92 L617,372.36 L618,371.8 L619,371.24 L620,370.68 L621,370.13 L622,369.58 L623,369.03 L624,368.48 L625,367.93 L626,367.38 L627,366.84 L628,366.3 L629,365.76 L630,365.22 L631,364.68 L632,364.15 L633,363.61 L634,363.08 L635,362.55 L636,362.02 L637,361.49 L638,360.97 L639,360.44 L640,359.92 L641,359.4 L642,358.88 L643,358.36 L644,357.85 L645,357.33 L646,356.82 L647,356.31 L648,355.8 L649,355.29 L650,354.78 L651,354.28 L652,353.77 L653,353.27 L654,352.77 L655,352.27 L656,351.77 L657,351.28 L658,350.78 L659,350.29 L660,349.8 L661,349.31 L662,348.82 L663,348.33 L664,347.84 L665,347.36 L666,346.88 L667,346.39 L668,345.91 L669,345.43 L670,344.96 L671,344.48 L672,344.01 L673,343.53 L674,343.06 L675,342.59 L676,342.12 L677,341.65 L678,341.19 L679,340.72 L680,340.26 L681,339.79 L682,339.33 L683,338.87 L684,338.41 L685,337.95 L686,337.5 L687,337.04 L688,336.59 L689,336.14 L690,335.69 L691,335.24 L692,334.79 L693,334.34 L694,333.89 L695,333.45 L696,333 L697,332.56 L698,332.12 L699,331.68 L700,331.24 L701,330.8 L702,330.36 L703,329.93 L704,329.49 L705,329.06 L706,328.63 L707,328.2 L708,327.77" fill="none" stroke="#999" stroke-width="1.15" stroke-dasharray="7.4,1.8,1.3,1.8"/></g>
<line x1="140.7" y1="116.7" x2="140.7" y2="154.7" stroke="#000000" stroke-opacity="0.9" stroke-width="1.35"/><circle cx="140.7" cy="125.2" r="1.75" fill="#000000"/>
<line x1="176.7" y1="93.3" x2="176.7" y2="108.5" stroke="#000000" stroke-opacity="0.9" stroke-width="1.35"/><circle cx="176.7" cy="98.8" r="1.75" fill="#000000"/>
<line x1="198" y1="92.7" x2="198" y2="139.9" stroke="#000000" stroke-opacity="0.9" stroke-width="1.35"/><circle cx="198" cy="104.3" r="1.75" fill="#000000"/>
<line x1="234.1" y1="66.3" x2="234.1" y2="112.9" stroke="#000000" stroke-opacity="0.9" stroke-width="1.35"/><circle cx="234.1" cy="75.2" r="1.75" fill="#000000"/>
<line x1="65.3" y1="171.1" x2="65.3" y2="210.3" stroke="#b0532f" stroke-opacity="0.9" stroke-width="1.35"/><circle cx="65.3" cy="187.2" r="1.75" fill="#b0532f"/>
<line x1="154.8" y1="115.5" x2="154.8" y2="140.8" stroke="#b0532f" stroke-opacity="0.9" stroke-width="1.35"/><circle cx="154.8" cy="126.6" r="1.75" fill="#b0532f"/>
<line x1="182" y1="93.3" x2="182" y2="103.7" stroke="#b0532f" stroke-opacity="0.9" stroke-width="1.35"/><circle cx="182" cy="98" r="1.75" fill="#b0532f"/>
<line x1="199.9" y1="86.2" x2="199.9" y2="96.1" stroke="#b0532f" stroke-opacity="0.9" stroke-width="1.35"/><circle cx="199.9" cy="90.4" r="1.75" fill="#b0532f"/>
<line x1="222.3" y1="72" x2="222.3" y2="83.8" stroke="#b0532f" stroke-opacity="0.9" stroke-width="1.35"/><circle cx="222.3" cy="77.5" r="1.75" fill="#b0532f"/>
<line x1="131.4" y1="121.8" x2="131.4" y2="138" stroke="#cf9b1e" stroke-opacity="0.9" stroke-width="1.35"/><circle cx="131.4" cy="127.1" r="1.75" fill="#cf9b1e"/>
<line x1="167.5" y1="99.6" x2="167.5" y2="113.3" stroke="#cf9b1e" stroke-opacity="0.9" stroke-width="1.35"/><circle cx="167.5" cy="104.7" r="1.75" fill="#cf9b1e"/>
<line x1="203.3" y1="84.7" x2="203.3" y2="111.3" stroke="#cf9b1e" stroke-opacity="0.9" stroke-width="1.35"/><circle cx="203.3" cy="92" r="1.75" fill="#cf9b1e"/>
<g clip-path="url(#clip2)"><line x1="461.9" y1="151.6" x2="461.9" y2="226.5" stroke="#cf9b1e" stroke-opacity="0.9" stroke-width="1.35"/><circle cx="461.9" cy="160.9" r="1.75" fill="#cf9b1e"/></g>
<line x1="498.4" y1="126.3" x2="498.4" y2="135.9" stroke="#cf9b1e" stroke-opacity="0.9" stroke-width="1.35"/><circle cx="498.4" cy="130.6" r="1.75" fill="#cf9b1e"/>
<line x1="525.3" y1="111.2" x2="525.3" y2="120.3" stroke="#cf9b1e" stroke-opacity="0.9" stroke-width="1.35"/><circle cx="525.3" cy="114.6" r="1.75" fill="#cf9b1e"/>
<line x1="543.1" y1="98.2" x2="543.1" y2="110" stroke="#cf9b1e" stroke-opacity="0.9" stroke-width="1.35"/><circle cx="543.1" cy="102.1" r="1.75" fill="#cf9b1e"/>
<line x1="508.9" y1="105" x2="508.9" y2="127.9" stroke="#000000" stroke-opacity="0.9" stroke-width="1.35"/><circle cx="508.9" cy="114.6" r="1.75" fill="#000000"/>
<line x1="545.4" y1="90.2" x2="545.4" y2="108.5" stroke="#000000" stroke-opacity="0.9" stroke-width="1.35"/><circle cx="545.4" cy="98.2" r="1.75" fill="#000000"/>
<line x1="581.3" y1="83.5" x2="581.3" y2="98.9" stroke="#b0532f" stroke-opacity="0.9" stroke-width="1.35"/><circle cx="581.3" cy="89.1" r="1.75" fill="#b0532f"/>
<line x1="617.4" y1="59.8" x2="617.4" y2="76.6" stroke="#b0532f" stroke-opacity="0.9" stroke-width="1.35"/><circle cx="617.4" cy="65.9" r="1.75" fill="#b0532f"/>
<path d="M76.5,408.48 L80.3,408.48 L78.4,411.71 Z" fill="#7a8ca3"/>
<line x1="114.6" y1="397.3" x2="114.6" y2="439.3" stroke="#7a8ca3" stroke-opacity="0.9" stroke-width="1.35"/><circle cx="114.6" cy="413.4" r="1.75" fill="#7a8ca3"/>
<line x1="127.5" y1="394.2" x2="127.5" y2="419.5" stroke="#cf9b1e" stroke-opacity="0.9" stroke-width="1.35"/><circle cx="127.5" cy="405.7" r="1.75" fill="#cf9b1e"/>
<line x1="140.5" y1="403.5" x2="140.5" y2="424.7" stroke="#8e8e1a" stroke-opacity="0.9" stroke-width="1.35"/><circle cx="140.5" cy="410.2" r="1.75" fill="#8e8e1a"/>
<line x1="147.6" y1="379.5" x2="147.6" y2="420.1" stroke="#000000" stroke-opacity="0.9" stroke-width="1.35"/><circle cx="147.6" cy="394.7" r="1.75" fill="#000000"/>
<line x1="150.8" y1="389.4" x2="150.8" y2="415.3" stroke="#7a8ca3" stroke-opacity="0.9" stroke-width="1.35"/><circle cx="150.8" cy="400.5" r="1.75" fill="#7a8ca3"/>
<line x1="156.5" y1="368.8" x2="156.5" y2="397.7" stroke="#b0532f" stroke-opacity="0.9" stroke-width="1.35"/><circle cx="156.5" cy="376.4" r="1.75" fill="#b0532f"/>
<path d="M152.6,369.28 L156.4,369.28 L154.5,372.51 Z" fill="#6f9f2a"/>
<path d="M160.2,368.08 L164,368.08 L162.1,371.31 Z" fill="#6f9f2a"/>
<line x1="186.7" y1="383.3" x2="186.7" y2="403.8" stroke="#7a8ca3" stroke-opacity="0.9" stroke-width="1.35"/><circle cx="186.7" cy="392.4" r="1.75" fill="#7a8ca3"/>
<line x1="194.4" y1="374.8" x2="194.4" y2="425" stroke="#8e8e1a" stroke-opacity="0.9" stroke-width="1.35"/><circle cx="194.4" cy="383.7" r="1.75" fill="#8e8e1a"/>
<line x1="197.8" y1="348.6" x2="197.8" y2="395.4" stroke="#6f9f2a" stroke-opacity="0.9" stroke-width="1.35"/><circle cx="197.8" cy="366.2" r="1.75" fill="#6f9f2a"/>
<line x1="201.5" y1="357" x2="201.5" y2="386.2" stroke="#b0532f" stroke-opacity="0.9" stroke-width="1.35"/><circle cx="201.5" cy="364.6" r="1.75" fill="#b0532f"/>
<line x1="219.7" y1="350.6" x2="219.7" y2="368.4" stroke="#858585" stroke-opacity="0.9" stroke-width="1.35"/><circle cx="219.7" cy="356.6" r="1.75" fill="#858585"/>
<line x1="223.2" y1="357" x2="223.2" y2="388.5" stroke="#7a8ca3" stroke-opacity="0.9" stroke-width="1.35"/><circle cx="223.2" cy="368" r="1.75" fill="#7a8ca3"/>
<line x1="234.3" y1="341" x2="234.3" y2="414" stroke="#6f9f2a" stroke-opacity="0.9" stroke-width="1.35"/><circle cx="234.3" cy="363.9" r="1.75" fill="#6f9f2a"/>
<line x1="255.8" y1="331.3" x2="255.8" y2="353.6" stroke="#858585" stroke-opacity="0.9" stroke-width="1.35"/><circle cx="255.8" cy="338.1" r="1.75" fill="#858585"/>
<path d="M268.5,328.88 L272.3,328.88 L270.4,332.11 Z" fill="#6f9f2a"/>
<path d="M304.6,313.68 L308.4,313.68 L306.5,316.91 Z" fill="#6f9f2a"/>
<g clip-path="url(#clip4)"><line x1="434.8" y1="463.4" x2="434.8" y2="497" stroke="#b0532f" stroke-opacity="0.9" stroke-width="1.35"/><circle cx="434.8" cy="479.2" r="1.75" fill="#b0532f"/></g>
<line x1="536" y1="394.8" x2="536" y2="413.8" stroke="#000000" stroke-opacity="0.9" stroke-width="1.35"/><circle cx="536" cy="403.7" r="1.75" fill="#000000"/>
<line x1="579.5" y1="382.6" x2="579.5" y2="399.1" stroke="#000000" stroke-opacity="0.9" stroke-width="1.35"/><circle cx="579.5" cy="390.4" r="1.75" fill="#000000"/>
<rect x="54.9" y="14.5" width="86.7" height="42.9" rx="2" ry="2" fill="#fff" fill-opacity="0.8" stroke="#d6d6d6" stroke-width="0.8"/>
<line x1="67.4" y1="17.3" x2="67.4" y2="26.4" stroke="#000000" stroke-opacity="0.88" stroke-width="1.3"/><circle cx="67.4" cy="21.8" r="1.7" fill="#000000"/>
<line x1="67.4" y1="30.6" x2="67.4" y2="39.7" stroke="#b0532f" stroke-opacity="0.88" stroke-width="1.3"/><circle cx="67.4" cy="35.1" r="1.7" fill="#b0532f"/>
<line x1="67.4" y1="43.9" x2="67.4" y2="53" stroke="#cf9b1e" stroke-opacity="0.88" stroke-width="1.3"/><circle cx="67.4" cy="48.4" r="1.7" fill="#cf9b1e"/>
<rect x="111.4" y="190.8" width="223.4" height="30.6" rx="2" ry="2" fill="#fff" fill-opacity="0.8" stroke="#d6d6d6" stroke-width="0.8"/>
<rect x="114.7" y="195.0" width="19.5" height="7.2" fill="#a9bcdb"/>
<rect x="114.7" y="208.7" width="19.5" height="7.2" fill="#fee8cc"/>
<rect x="423.6" y="14.5" width="93.9" height="42.9" rx="2" ry="2" fill="#fff" fill-opacity="0.8" stroke="#d6d6d6" stroke-width="0.8"/>
<line x1="436.3" y1="17.3" x2="436.3" y2="26.4" stroke="#000000" stroke-opacity="0.88" stroke-width="1.3"/><circle cx="436.3" cy="21.8" r="1.7" fill="#000000"/>
<line x1="436.3" y1="30.6" x2="436.3" y2="39.7" stroke="#cf9b1e" stroke-opacity="0.88" stroke-width="1.3"/><circle cx="436.3" cy="35.1" r="1.7" fill="#cf9b1e"/>
<line x1="436.3" y1="43.9" x2="436.3" y2="53" stroke="#b0532f" stroke-opacity="0.88" stroke-width="1.3"/><circle cx="436.3" cy="48.4" r="1.7" fill="#b0532f"/>
<rect x="481" y="191" width="222.4" height="30.8" rx="2" ry="2" fill="#fff" fill-opacity="0.8" stroke="#d6d6d6" stroke-width="0.8"/>
<rect x="484.3" y="195.2" width="19.5" height="7.2" fill="#a9bcdb"/>
<rect x="484.3" y="208.9" width="19.5" height="7.2" fill="#fee8cc"/>
<rect x="54.7" y="285.3" width="93.6" height="97.5" rx="2" ry="2" fill="#fff" fill-opacity="0.8" stroke="#d6d6d6" stroke-width="0.8"/>
<line x1="67.6" y1="288.1" x2="67.6" y2="297.2" stroke="#000000" stroke-opacity="0.88" stroke-width="1.3"/><circle cx="67.6" cy="292.6" r="1.7" fill="#000000"/>
<line x1="67.6" y1="301.53" x2="67.6" y2="310.63" stroke="#858585" stroke-opacity="0.88" stroke-width="1.3"/><circle cx="67.6" cy="306.03" r="1.7" fill="#858585"/>
<line x1="67.6" y1="314.96" x2="67.6" y2="324.06" stroke="#9a9a9a" stroke-opacity="0.88" stroke-width="1.3"/><circle cx="67.6" cy="319.46" r="1.7" fill="#9a9a9a"/>
<line x1="67.6" y1="328.39" x2="67.6" y2="337.49" stroke="#b0532f" stroke-opacity="0.88" stroke-width="1.3"/><circle cx="67.6" cy="332.89" r="1.7" fill="#b0532f"/>
<line x1="67.6" y1="341.82" x2="67.6" y2="350.92" stroke="#7a8ca3" stroke-opacity="0.88" stroke-width="1.3"/><circle cx="67.6" cy="346.32" r="1.7" fill="#7a8ca3"/>
<line x1="67.6" y1="355.25" x2="67.6" y2="364.35" stroke="#6f9f2a" stroke-opacity="0.88" stroke-width="1.3"/><circle cx="67.6" cy="359.75" r="1.7" fill="#6f9f2a"/>
<line x1="67.6" y1="368.68" x2="67.6" y2="377.78" stroke="#cf9b1e" stroke-opacity="0.88" stroke-width="1.3"/><circle cx="67.6" cy="373.18" r="1.7" fill="#cf9b1e"/>
<rect x="112.4" y="462.4" width="221.7" height="30.4" rx="2" ry="2" fill="#fff" fill-opacity="0.8" stroke="#d6d6d6" stroke-width="0.8"/>
<rect x="115.7" y="466.6" width="19.5" height="7.2" fill="#a9bcdb"/>
<rect x="115.7" y="480.3" width="19.5" height="7.2" fill="#fdecd9"/>
<rect x="427.8" y="285.5" width="275" height="60" rx="2" ry="2" fill="#fff" fill-opacity="0.8" stroke="#d6d6d6" stroke-width="0.8"/>
<line x1="431.1" y1="294.1" x2="450.6" y2="294.1" stroke="#a3a3a3" stroke-width="1.4"/>
<line x1="431.3" y1="309.6" x2="450.3" y2="309.6" stroke="#a3a3a3" stroke-width="1.4" stroke-dasharray="7.4,1.8,1.3,1.8"/>
<line x1="440.4" y1="318.6" x2="440.4" y2="327.7" stroke="#b0532f" stroke-opacity="0.88" stroke-width="1.3"/><circle cx="440.4" cy="323.1" r="1.7" fill="#b0532f"/>
<line x1="440.4" y1="332.7" x2="440.4" y2="341.8" stroke="#000000" stroke-opacity="0.88" stroke-width="1.3"/><circle cx="440.4" cy="337.2" r="1.7" fill="#000000"/>
<line x1="46.9" y1="225.8" x2="50" y2="225.8" stroke="#555555" stroke-width="0.8"/>
<line x1="48.3" y1="216.5" x2="50" y2="216.5" stroke="#555555" stroke-width="0.6"/>
<line x1="48.3" y1="211.06" x2="50" y2="211.06" stroke="#555555" stroke-width="0.6"/>
<line x1="48.3" y1="207.2" x2="50" y2="207.2" stroke="#555555" stroke-width="0.6"/>
<line x1="48.3" y1="204.21" x2="50" y2="204.21" stroke="#555555" stroke-width="0.6"/>
<line x1="48.3" y1="201.77" x2="50" y2="201.77" stroke="#555555" stroke-width="0.6"/>
<line x1="48.3" y1="199.7" x2="50" y2="199.7" stroke="#555555" stroke-width="0.6"/>
<line x1="48.3" y1="197.91" x2="50" y2="197.91" stroke="#555555" stroke-width="0.6"/>
<line x1="48.3" y1="196.33" x2="50" y2="196.33" stroke="#555555" stroke-width="0.6"/>
<line x1="46.9" y1="194.91" x2="50" y2="194.91" stroke="#555555" stroke-width="0.8"/>
<line x1="48.3" y1="185.62" x2="50" y2="185.62" stroke="#555555" stroke-width="0.6"/>
<line x1="48.3" y1="180.18" x2="50" y2="180.18" stroke="#555555" stroke-width="0.6"/>
<line x1="48.3" y1="176.32" x2="50" y2="176.32" stroke="#555555" stroke-width="0.6"/>
<line x1="48.3" y1="173.33" x2="50" y2="173.33" stroke="#555555" stroke-width="0.6"/>
<line x1="48.3" y1="170.88" x2="50" y2="170.88" stroke="#555555" stroke-width="0.6"/>
<line x1="48.3" y1="168.81" x2="50" y2="168.81" stroke="#555555" stroke-width="0.6"/>
<line x1="48.3" y1="167.02" x2="50" y2="167.02" stroke="#555555" stroke-width="0.6"/>
<line x1="48.3" y1="165.44" x2="50" y2="165.44" stroke="#555555" stroke-width="0.6"/>
<line x1="46.9" y1="164.03" x2="50" y2="164.03" stroke="#555555" stroke-width="0.8"/>
<line x1="48.3" y1="154.73" x2="50" y2="154.73" stroke="#555555" stroke-width="0.6"/>
<line x1="48.3" y1="149.29" x2="50" y2="149.29" stroke="#555555" stroke-width="0.6"/>
<line x1="48.3" y1="145.43" x2="50" y2="145.43" stroke="#555555" stroke-width="0.6"/>
<line x1="48.3" y1="142.44" x2="50" y2="142.44" stroke="#555555" stroke-width="0.6"/>
<line x1="48.3" y1="139.99" x2="50" y2="139.99" stroke="#555555" stroke-width="0.6"/>
<line x1="48.3" y1="137.93" x2="50" y2="137.93" stroke="#555555" stroke-width="0.6"/>
<line x1="48.3" y1="136.14" x2="50" y2="136.14" stroke="#555555" stroke-width="0.6"/>
<line x1="48.3" y1="134.56" x2="50" y2="134.56" stroke="#555555" stroke-width="0.6"/>
<line x1="46.9" y1="133.14" x2="50" y2="133.14" stroke="#555555" stroke-width="0.8"/>
<line x1="48.3" y1="123.85" x2="50" y2="123.85" stroke="#555555" stroke-width="0.6"/>
<line x1="48.3" y1="118.41" x2="50" y2="118.41" stroke="#555555" stroke-width="0.6"/>
<line x1="48.3" y1="114.55" x2="50" y2="114.55" stroke="#555555" stroke-width="0.6"/>
<line x1="48.3" y1="111.55" x2="50" y2="111.55" stroke="#555555" stroke-width="0.6"/>
<line x1="48.3" y1="109.11" x2="50" y2="109.11" stroke="#555555" stroke-width="0.6"/>
<line x1="48.3" y1="107.04" x2="50" y2="107.04" stroke="#555555" stroke-width="0.6"/>
<line x1="48.3" y1="105.25" x2="50" y2="105.25" stroke="#555555" stroke-width="0.6"/>
<line x1="48.3" y1="103.67" x2="50" y2="103.67" stroke="#555555" stroke-width="0.6"/>
<line x1="46.9" y1="102.26" x2="50" y2="102.26" stroke="#555555" stroke-width="0.8"/>
<line x1="48.3" y1="92.96" x2="50" y2="92.96" stroke="#555555" stroke-width="0.6"/>
<line x1="48.3" y1="87.52" x2="50" y2="87.52" stroke="#555555" stroke-width="0.6"/>
<line x1="48.3" y1="83.66" x2="50" y2="83.66" stroke="#555555" stroke-width="0.6"/>
<line x1="48.3" y1="80.67" x2="50" y2="80.67" stroke="#555555" stroke-width="0.6"/>
<line x1="48.3" y1="78.22" x2="50" y2="78.22" stroke="#555555" stroke-width="0.6"/>
<line x1="48.3" y1="76.16" x2="50" y2="76.16" stroke="#555555" stroke-width="0.6"/>
<line x1="48.3" y1="74.36" x2="50" y2="74.36" stroke="#555555" stroke-width="0.6"/>
<line x1="48.3" y1="72.78" x2="50" y2="72.78" stroke="#555555" stroke-width="0.6"/>
<line x1="46.9" y1="71.37" x2="50" y2="71.37" stroke="#555555" stroke-width="0.8"/>
<line x1="48.3" y1="62.07" x2="50" y2="62.07" stroke="#555555" stroke-width="0.6"/>
<line x1="48.3" y1="56.64" x2="50" y2="56.64" stroke="#555555" stroke-width="0.6"/>
<line x1="48.3" y1="52.78" x2="50" y2="52.78" stroke="#555555" stroke-width="0.6"/>
<line x1="48.3" y1="49.78" x2="50" y2="49.78" stroke="#555555" stroke-width="0.6"/>
<line x1="48.3" y1="47.34" x2="50" y2="47.34" stroke="#555555" stroke-width="0.6"/>
<line x1="48.3" y1="45.27" x2="50" y2="45.27" stroke="#555555" stroke-width="0.6"/>
<line x1="48.3" y1="43.48" x2="50" y2="43.48" stroke="#555555" stroke-width="0.6"/>
<line x1="48.3" y1="41.9" x2="50" y2="41.9" stroke="#555555" stroke-width="0.6"/>
<line x1="46.9" y1="40.49" x2="50" y2="40.49" stroke="#555555" stroke-width="0.8"/>
<line x1="48.3" y1="31.19" x2="50" y2="31.19" stroke="#555555" stroke-width="0.6"/>
<line x1="48.3" y1="25.75" x2="50" y2="25.75" stroke="#555555" stroke-width="0.6"/>
<line x1="48.3" y1="21.89" x2="50" y2="21.89" stroke="#555555" stroke-width="0.6"/>
<line x1="48.3" y1="18.9" x2="50" y2="18.9" stroke="#555555" stroke-width="0.6"/>
<line x1="48.3" y1="16.45" x2="50" y2="16.45" stroke="#555555" stroke-width="0.6"/>
<line x1="48.3" y1="14.38" x2="50" y2="14.38" stroke="#555555" stroke-width="0.6"/>
<line x1="48.3" y1="12.59" x2="50" y2="12.59" stroke="#555555" stroke-width="0.6"/>
<line x1="48.3" y1="11.01" x2="50" y2="11.01" stroke="#555555" stroke-width="0.6"/>
<line x1="46.9" y1="9.6" x2="50" y2="9.6" stroke="#555555" stroke-width="0.8"/>
<line x1="50" y1="225.8" x2="50" y2="228.9" stroke="#555555" stroke-width="0.8"/>
<line x1="86.09" y1="225.8" x2="86.09" y2="228.9" stroke="#555555" stroke-width="0.8"/>
<line x1="122.17" y1="225.8" x2="122.17" y2="228.9" stroke="#555555" stroke-width="0.8"/>
<line x1="158.26" y1="225.8" x2="158.26" y2="228.9" stroke="#555555" stroke-width="0.8"/>
<line x1="194.35" y1="225.8" x2="194.35" y2="228.9" stroke="#555555" stroke-width="0.8"/>
<line x1="230.44" y1="225.8" x2="230.44" y2="228.9" stroke="#555555" stroke-width="0.8"/>
<line x1="266.52" y1="225.8" x2="266.52" y2="228.9" stroke="#555555" stroke-width="0.8"/>
<line x1="302.61" y1="225.8" x2="302.61" y2="228.9" stroke="#555555" stroke-width="0.8"/>
<line x1="338.7" y1="225.8" x2="338.7" y2="228.9" stroke="#555555" stroke-width="0.8"/>
<rect x="50" y="9.6" width="288.7" height="216.2" fill="none" stroke="#555555" stroke-width="1.2"/>
<line x1="415.7" y1="225.8" x2="418.8" y2="225.8" stroke="#555555" stroke-width="0.8"/>
<line x1="417.1" y1="216.5" x2="418.8" y2="216.5" stroke="#555555" stroke-width="0.6"/>
<line x1="417.1" y1="211.06" x2="418.8" y2="211.06" stroke="#555555" stroke-width="0.6"/>
<line x1="417.1" y1="207.2" x2="418.8" y2="207.2" stroke="#555555" stroke-width="0.6"/>
<line x1="417.1" y1="204.21" x2="418.8" y2="204.21" stroke="#555555" stroke-width="0.6"/>
<line x1="417.1" y1="201.77" x2="418.8" y2="201.77" stroke="#555555" stroke-width="0.6"/>
<line x1="417.1" y1="199.7" x2="418.8" y2="199.7" stroke="#555555" stroke-width="0.6"/>
<line x1="417.1" y1="197.91" x2="418.8" y2="197.91" stroke="#555555" stroke-width="0.6"/>
<line x1="417.1" y1="196.33" x2="418.8" y2="196.33" stroke="#555555" stroke-width="0.6"/>
<line x1="415.7" y1="194.91" x2="418.8" y2="194.91" stroke="#555555" stroke-width="0.8"/>
<line x1="417.1" y1="185.62" x2="418.8" y2="185.62" stroke="#555555" stroke-width="0.6"/>
<line x1="417.1" y1="180.18" x2="418.8" y2="180.18" stroke="#555555" stroke-width="0.6"/>
<line x1="417.1" y1="176.32" x2="418.8" y2="176.32" stroke="#555555" stroke-width="0.6"/>
<line x1="417.1" y1="173.33" x2="418.8" y2="173.33" stroke="#555555" stroke-width="0.6"/>
<line x1="417.1" y1="170.88" x2="418.8" y2="170.88" stroke="#555555" stroke-width="0.6"/>
<line x1="417.1" y1="168.81" x2="418.8" y2="168.81" stroke="#555555" stroke-width="0.6"/>
<line x1="417.1" y1="167.02" x2="418.8" y2="167.02" stroke="#555555" stroke-width="0.6"/>
<line x1="417.1" y1="165.44" x2="418.8" y2="165.44" stroke="#555555" stroke-width="0.6"/>
<line x1="415.7" y1="164.03" x2="418.8" y2="164.03" stroke="#555555" stroke-width="0.8"/>
<line x1="417.1" y1="154.73" x2="418.8" y2="154.73" stroke="#555555" stroke-width="0.6"/>
<line x1="417.1" y1="149.29" x2="418.8" y2="149.29" stroke="#555555" stroke-width="0.6"/>
<line x1="417.1" y1="145.43" x2="418.8" y2="145.43" stroke="#555555" stroke-width="0.6"/>
<line x1="417.1" y1="142.44" x2="418.8" y2="142.44" stroke="#555555" stroke-width="0.6"/>
<line x1="417.1" y1="139.99" x2="418.8" y2="139.99" stroke="#555555" stroke-width="0.6"/>
<line x1="417.1" y1="137.93" x2="418.8" y2="137.93" stroke="#555555" stroke-width="0.6"/>
<line x1="417.1" y1="136.14" x2="418.8" y2="136.14" stroke="#555555" stroke-width="0.6"/>
<line x1="417.1" y1="134.56" x2="418.8" y2="134.56" stroke="#555555" stroke-width="0.6"/>
<line x1="415.7" y1="133.14" x2="418.8" y2="133.14" stroke="#555555" stroke-width="0.8"/>
<line x1="417.1" y1="123.85" x2="418.8" y2="123.85" stroke="#555555" stroke-width="0.6"/>
<line x1="417.1" y1="118.41" x2="418.8" y2="118.41" stroke="#555555" stroke-width="0.6"/>
<line x1="417.1" y1="114.55" x2="418.8" y2="114.55" stroke="#555555" stroke-width="0.6"/>
<line x1="417.1" y1="111.55" x2="418.8" y2="111.55" stroke="#555555" stroke-width="0.6"/>
<line x1="417.1" y1="109.11" x2="418.8" y2="109.11" stroke="#555555" stroke-width="0.6"/>
<line x1="417.1" y1="107.04" x2="418.8" y2="107.04" stroke="#555555" stroke-width="0.6"/>
<line x1="417.1" y1="105.25" x2="418.8" y2="105.25" stroke="#555555" stroke-width="0.6"/>
<line x1="417.1" y1="103.67" x2="418.8" y2="103.67" stroke="#555555" stroke-width="0.6"/>
<line x1="415.7" y1="102.26" x2="418.8" y2="102.26" stroke="#555555" stroke-width="0.8"/>
<line x1="417.1" y1="92.96" x2="418.8" y2="92.96" stroke="#555555" stroke-width="0.6"/>
<line x1="417.1" y1="87.52" x2="418.8" y2="87.52" stroke="#555555" stroke-width="0.6"/>
<line x1="417.1" y1="83.66" x2="418.8" y2="83.66" stroke="#555555" stroke-width="0.6"/>
<line x1="417.1" y1="80.67" x2="418.8" y2="80.67" stroke="#555555" stroke-width="0.6"/>
<line x1="417.1" y1="78.22" x2="418.8" y2="78.22" stroke="#555555" stroke-width="0.6"/>
<line x1="417.1" y1="76.16" x2="418.8" y2="76.16" stroke="#555555" stroke-width="0.6"/>
<line x1="417.1" y1="74.36" x2="418.8" y2="74.36" stroke="#555555" stroke-width="0.6"/>
<line x1="417.1" y1="72.78" x2="418.8" y2="72.78" stroke="#555555" stroke-width="0.6"/>
<line x1="415.7" y1="71.37" x2="418.8" y2="71.37" stroke="#555555" stroke-width="0.8"/>
<line x1="417.1" y1="62.07" x2="418.8" y2="62.07" stroke="#555555" stroke-width="0.6"/>
<line x1="417.1" y1="56.64" x2="418.8" y2="56.64" stroke="#555555" stroke-width="0.6"/>
<line x1="417.1" y1="52.78" x2="418.8" y2="52.78" stroke="#555555" stroke-width="0.6"/>
<line x1="417.1" y1="49.78" x2="418.8" y2="49.78" stroke="#555555" stroke-width="0.6"/>
<line x1="417.1" y1="47.34" x2="418.8" y2="47.34" stroke="#555555" stroke-width="0.6"/>
<line x1="417.1" y1="45.27" x2="418.8" y2="45.27" stroke="#555555" stroke-width="0.6"/>
<line x1="417.1" y1="43.48" x2="418.8" y2="43.48" stroke="#555555" stroke-width="0.6"/>
<line x1="417.1" y1="41.9" x2="418.8" y2="41.9" stroke="#555555" stroke-width="0.6"/>
<line x1="415.7" y1="40.49" x2="418.8" y2="40.49" stroke="#555555" stroke-width="0.8"/>
<line x1="417.1" y1="31.19" x2="418.8" y2="31.19" stroke="#555555" stroke-width="0.6"/>
<line x1="417.1" y1="25.75" x2="418.8" y2="25.75" stroke="#555555" stroke-width="0.6"/>
<line x1="417.1" y1="21.89" x2="418.8" y2="21.89" stroke="#555555" stroke-width="0.6"/>
<line x1="417.1" y1="18.9" x2="418.8" y2="18.9" stroke="#555555" stroke-width="0.6"/>
<line x1="417.1" y1="16.45" x2="418.8" y2="16.45" stroke="#555555" stroke-width="0.6"/>
<line x1="417.1" y1="14.38" x2="418.8" y2="14.38" stroke="#555555" stroke-width="0.6"/>
<line x1="417.1" y1="12.59" x2="418.8" y2="12.59" stroke="#555555" stroke-width="0.6"/>
<line x1="417.1" y1="11.01" x2="418.8" y2="11.01" stroke="#555555" stroke-width="0.6"/>
<line x1="415.7" y1="9.6" x2="418.8" y2="9.6" stroke="#555555" stroke-width="0.8"/>
<line x1="418.8" y1="225.8" x2="418.8" y2="228.9" stroke="#555555" stroke-width="0.8"/>
<line x1="454.89" y1="225.8" x2="454.89" y2="228.9" stroke="#555555" stroke-width="0.8"/>
<line x1="490.98" y1="225.8" x2="490.98" y2="228.9" stroke="#555555" stroke-width="0.8"/>
<line x1="527.06" y1="225.8" x2="527.06" y2="228.9" stroke="#555555" stroke-width="0.8"/>
<line x1="563.15" y1="225.8" x2="563.15" y2="228.9" stroke="#555555" stroke-width="0.8"/>
<line x1="599.24" y1="225.8" x2="599.24" y2="228.9" stroke="#555555" stroke-width="0.8"/>
<line x1="635.33" y1="225.8" x2="635.33" y2="228.9" stroke="#555555" stroke-width="0.8"/>
<line x1="671.41" y1="225.8" x2="671.41" y2="228.9" stroke="#555555" stroke-width="0.8"/>
<line x1="707.5" y1="225.8" x2="707.5" y2="228.9" stroke="#555555" stroke-width="0.8"/>
<rect x="418.8" y="9.6" width="288.7" height="216.2" fill="none" stroke="#555555" stroke-width="1.2"/>
<line x1="47.2" y1="496.6" x2="50.3" y2="496.6" stroke="#555555" stroke-width="0.8"/>
<line x1="48.6" y1="487.3" x2="50.3" y2="487.3" stroke="#555555" stroke-width="0.6"/>
<line x1="48.6" y1="481.86" x2="50.3" y2="481.86" stroke="#555555" stroke-width="0.6"/>
<line x1="48.6" y1="478" x2="50.3" y2="478" stroke="#555555" stroke-width="0.6"/>
<line x1="48.6" y1="475.01" x2="50.3" y2="475.01" stroke="#555555" stroke-width="0.6"/>
<line x1="48.6" y1="472.57" x2="50.3" y2="472.57" stroke="#555555" stroke-width="0.6"/>
<line x1="48.6" y1="470.5" x2="50.3" y2="470.5" stroke="#555555" stroke-width="0.6"/>
<line x1="48.6" y1="468.71" x2="50.3" y2="468.71" stroke="#555555" stroke-width="0.6"/>
<line x1="48.6" y1="467.13" x2="50.3" y2="467.13" stroke="#555555" stroke-width="0.6"/>
<line x1="47.2" y1="465.71" x2="50.3" y2="465.71" stroke="#555555" stroke-width="0.8"/>
<line x1="48.6" y1="456.42" x2="50.3" y2="456.42" stroke="#555555" stroke-width="0.6"/>
<line x1="48.6" y1="450.98" x2="50.3" y2="450.98" stroke="#555555" stroke-width="0.6"/>
<line x1="48.6" y1="447.12" x2="50.3" y2="447.12" stroke="#555555" stroke-width="0.6"/>
<line x1="48.6" y1="444.13" x2="50.3" y2="444.13" stroke="#555555" stroke-width="0.6"/>
<line x1="48.6" y1="441.68" x2="50.3" y2="441.68" stroke="#555555" stroke-width="0.6"/>
<line x1="48.6" y1="439.61" x2="50.3" y2="439.61" stroke="#555555" stroke-width="0.6"/>
<line x1="48.6" y1="437.82" x2="50.3" y2="437.82" stroke="#555555" stroke-width="0.6"/>
<line x1="48.6" y1="436.24" x2="50.3" y2="436.24" stroke="#555555" stroke-width="0.6"/>
<line x1="47.2" y1="434.83" x2="50.3" y2="434.83" stroke="#555555" stroke-width="0.8"/>
<line x1="48.6" y1="425.53" x2="50.3" y2="425.53" stroke="#555555" stroke-width="0.6"/>
<line x1="48.6" y1="420.09" x2="50.3" y2="420.09" stroke="#555555" stroke-width="0.6"/>
<line x1="48.6" y1="416.23" x2="50.3" y2="416.23" stroke="#555555" stroke-width="0.6"/>
<line x1="48.6" y1="413.24" x2="50.3" y2="413.24" stroke="#555555" stroke-width="0.6"/>
<line x1="48.6" y1="410.79" x2="50.3" y2="410.79" stroke="#555555" stroke-width="0.6"/>
<line x1="48.6" y1="408.73" x2="50.3" y2="408.73" stroke="#555555" stroke-width="0.6"/>
<line x1="48.6" y1="406.94" x2="50.3" y2="406.94" stroke="#555555" stroke-width="0.6"/>
<line x1="48.6" y1="405.36" x2="50.3" y2="405.36" stroke="#555555" stroke-width="0.6"/>
<line x1="47.2" y1="403.94" x2="50.3" y2="403.94" stroke="#555555" stroke-width="0.8"/>
<line x1="48.6" y1="394.65" x2="50.3" y2="394.65" stroke="#555555" stroke-width="0.6"/>
<line x1="48.6" y1="389.21" x2="50.3" y2="389.21" stroke="#555555" stroke-width="0.6"/>
<line x1="48.6" y1="385.35" x2="50.3" y2="385.35" stroke="#555555" stroke-width="0.6"/>
<line x1="48.6" y1="382.35" x2="50.3" y2="382.35" stroke="#555555" stroke-width="0.6"/>
<line x1="48.6" y1="379.91" x2="50.3" y2="379.91" stroke="#555555" stroke-width="0.6"/>
<line x1="48.6" y1="377.84" x2="50.3" y2="377.84" stroke="#555555" stroke-width="0.6"/>
<line x1="48.6" y1="376.05" x2="50.3" y2="376.05" stroke="#555555" stroke-width="0.6"/>
<line x1="48.6" y1="374.47" x2="50.3" y2="374.47" stroke="#555555" stroke-width="0.6"/>
<line x1="47.2" y1="373.06" x2="50.3" y2="373.06" stroke="#555555" stroke-width="0.8"/>
<line x1="48.6" y1="363.76" x2="50.3" y2="363.76" stroke="#555555" stroke-width="0.6"/>
<line x1="48.6" y1="358.32" x2="50.3" y2="358.32" stroke="#555555" stroke-width="0.6"/>
<line x1="48.6" y1="354.46" x2="50.3" y2="354.46" stroke="#555555" stroke-width="0.6"/>
<line x1="48.6" y1="351.47" x2="50.3" y2="351.47" stroke="#555555" stroke-width="0.6"/>
<line x1="48.6" y1="349.02" x2="50.3" y2="349.02" stroke="#555555" stroke-width="0.6"/>
<line x1="48.6" y1="346.96" x2="50.3" y2="346.96" stroke="#555555" stroke-width="0.6"/>
<line x1="48.6" y1="345.16" x2="50.3" y2="345.16" stroke="#555555" stroke-width="0.6"/>
<line x1="48.6" y1="343.58" x2="50.3" y2="343.58" stroke="#555555" stroke-width="0.6"/>
<line x1="47.2" y1="342.17" x2="50.3" y2="342.17" stroke="#555555" stroke-width="0.8"/>
<line x1="48.6" y1="332.87" x2="50.3" y2="332.87" stroke="#555555" stroke-width="0.6"/>
<line x1="48.6" y1="327.44" x2="50.3" y2="327.44" stroke="#555555" stroke-width="0.6"/>
<line x1="48.6" y1="323.58" x2="50.3" y2="323.58" stroke="#555555" stroke-width="0.6"/>
<line x1="48.6" y1="320.58" x2="50.3" y2="320.58" stroke="#555555" stroke-width="0.6"/>
<line x1="48.6" y1="318.14" x2="50.3" y2="318.14" stroke="#555555" stroke-width="0.6"/>
<line x1="48.6" y1="316.07" x2="50.3" y2="316.07" stroke="#555555" stroke-width="0.6"/>
<line x1="48.6" y1="314.28" x2="50.3" y2="314.28" stroke="#555555" stroke-width="0.6"/>
<line x1="48.6" y1="312.7" x2="50.3" y2="312.7" stroke="#555555" stroke-width="0.6"/>
<line x1="47.2" y1="311.29" x2="50.3" y2="311.29" stroke="#555555" stroke-width="0.8"/>
<line x1="48.6" y1="301.99" x2="50.3" y2="301.99" stroke="#555555" stroke-width="0.6"/>
<line x1="48.6" y1="296.55" x2="50.3" y2="296.55" stroke="#555555" stroke-width="0.6"/>
<line x1="48.6" y1="292.69" x2="50.3" y2="292.69" stroke="#555555" stroke-width="0.6"/>
<line x1="48.6" y1="289.7" x2="50.3" y2="289.7" stroke="#555555" stroke-width="0.6"/>
<line x1="48.6" y1="287.25" x2="50.3" y2="287.25" stroke="#555555" stroke-width="0.6"/>
<line x1="48.6" y1="285.18" x2="50.3" y2="285.18" stroke="#555555" stroke-width="0.6"/>
<line x1="48.6" y1="283.39" x2="50.3" y2="283.39" stroke="#555555" stroke-width="0.6"/>
<line x1="48.6" y1="281.81" x2="50.3" y2="281.81" stroke="#555555" stroke-width="0.6"/>
<line x1="47.2" y1="280.4" x2="50.3" y2="280.4" stroke="#555555" stroke-width="0.8"/>
<line x1="50.3" y1="496.6" x2="50.3" y2="499.7" stroke="#555555" stroke-width="0.8"/>
<line x1="86.39" y1="496.6" x2="86.39" y2="499.7" stroke="#555555" stroke-width="0.8"/>
<line x1="122.47" y1="496.6" x2="122.47" y2="499.7" stroke="#555555" stroke-width="0.8"/>
<line x1="158.56" y1="496.6" x2="158.56" y2="499.7" stroke="#555555" stroke-width="0.8"/>
<line x1="194.65" y1="496.6" x2="194.65" y2="499.7" stroke="#555555" stroke-width="0.8"/>
<line x1="230.74" y1="496.6" x2="230.74" y2="499.7" stroke="#555555" stroke-width="0.8"/>
<line x1="266.82" y1="496.6" x2="266.82" y2="499.7" stroke="#555555" stroke-width="0.8"/>
<line x1="302.91" y1="496.6" x2="302.91" y2="499.7" stroke="#555555" stroke-width="0.8"/>
<line x1="339" y1="496.6" x2="339" y2="499.7" stroke="#555555" stroke-width="0.8"/>
<rect x="50.3" y="280.4" width="288.7" height="216.2" fill="none" stroke="#555555" stroke-width="1.2"/>
<line x1="415.9" y1="496.6" x2="419" y2="496.6" stroke="#555555" stroke-width="0.8"/>
<line x1="417.3" y1="487.3" x2="419" y2="487.3" stroke="#555555" stroke-width="0.6"/>
<line x1="417.3" y1="481.86" x2="419" y2="481.86" stroke="#555555" stroke-width="0.6"/>
<line x1="417.3" y1="478" x2="419" y2="478" stroke="#555555" stroke-width="0.6"/>
<line x1="417.3" y1="475.01" x2="419" y2="475.01" stroke="#555555" stroke-width="0.6"/>
<line x1="417.3" y1="472.57" x2="419" y2="472.57" stroke="#555555" stroke-width="0.6"/>
<line x1="417.3" y1="470.5" x2="419" y2="470.5" stroke="#555555" stroke-width="0.6"/>
<line x1="417.3" y1="468.71" x2="419" y2="468.71" stroke="#555555" stroke-width="0.6"/>
<line x1="417.3" y1="467.13" x2="419" y2="467.13" stroke="#555555" stroke-width="0.6"/>
<line x1="415.9" y1="465.71" x2="419" y2="465.71" stroke="#555555" stroke-width="0.8"/>
<line x1="417.3" y1="456.42" x2="419" y2="456.42" stroke="#555555" stroke-width="0.6"/>
<line x1="417.3" y1="450.98" x2="419" y2="450.98" stroke="#555555" stroke-width="0.6"/>
<line x1="417.3" y1="447.12" x2="419" y2="447.12" stroke="#555555" stroke-width="0.6"/>
<line x1="417.3" y1="444.13" x2="419" y2="444.13" stroke="#555555" stroke-width="0.6"/>
<line x1="417.3" y1="441.68" x2="419" y2="441.68" stroke="#555555" stroke-width="0.6"/>
<line x1="417.3" y1="439.61" x2="419" y2="439.61" stroke="#555555" stroke-width="0.6"/>
<line x1="417.3" y1="437.82" x2="419" y2="437.82" stroke="#555555" stroke-width="0.6"/>
<line x1="417.3" y1="436.24" x2="419" y2="436.24" stroke="#555555" stroke-width="0.6"/>
<line x1="415.9" y1="434.83" x2="419" y2="434.83" stroke="#555555" stroke-width="0.8"/>
<line x1="417.3" y1="425.53" x2="419" y2="425.53" stroke="#555555" stroke-width="0.6"/>
<line x1="417.3" y1="420.09" x2="419" y2="420.09" stroke="#555555" stroke-width="0.6"/>
<line x1="417.3" y1="416.23" x2="419" y2="416.23" stroke="#555555" stroke-width="0.6"/>
<line x1="417.3" y1="413.24" x2="419" y2="413.24" stroke="#555555" stroke-width="0.6"/>
<line x1="417.3" y1="410.79" x2="419" y2="410.79" stroke="#555555" stroke-width="0.6"/>
<line x1="417.3" y1="408.73" x2="419" y2="408.73" stroke="#555555" stroke-width="0.6"/>
<line x1="417.3" y1="406.94" x2="419" y2="406.94" stroke="#555555" stroke-width="0.6"/>
<line x1="417.3" y1="405.36" x2="419" y2="405.36" stroke="#555555" stroke-width="0.6"/>
<line x1="415.9" y1="403.94" x2="419" y2="403.94" stroke="#555555" stroke-width="0.8"/>
<line x1="417.3" y1="394.65" x2="419" y2="394.65" stroke="#555555" stroke-width="0.6"/>
<line x1="417.3" y1="389.21" x2="419" y2="389.21" stroke="#555555" stroke-width="0.6"/>
<line x1="417.3" y1="385.35" x2="419" y2="385.35" stroke="#555555" stroke-width="0.6"/>
<line x1="417.3" y1="382.35" x2="419" y2="382.35" stroke="#555555" stroke-width="0.6"/>
<line x1="417.3" y1="379.91" x2="419" y2="379.91" stroke="#555555" stroke-width="0.6"/>
<line x1="417.3" y1="377.84" x2="419" y2="377.84" stroke="#555555" stroke-width="0.6"/>
<line x1="417.3" y1="376.05" x2="419" y2="376.05" stroke="#555555" stroke-width="0.6"/>
<line x1="417.3" y1="374.47" x2="419" y2="374.47" stroke="#555555" stroke-width="0.6"/>
<line x1="415.9" y1="373.06" x2="419" y2="373.06" stroke="#555555" stroke-width="0.8"/>
<line x1="417.3" y1="363.76" x2="419" y2="363.76" stroke="#555555" stroke-width="0.6"/>
<line x1="417.3" y1="358.32" x2="419" y2="358.32" stroke="#555555" stroke-width="0.6"/>
<line x1="417.3" y1="354.46" x2="419" y2="354.46" stroke="#555555" stroke-width="0.6"/>
<line x1="417.3" y1="351.47" x2="419" y2="351.47" stroke="#555555" stroke-width="0.6"/>
<line x1="417.3" y1="349.02" x2="419" y2="349.02" stroke="#555555" stroke-width="0.6"/>
<line x1="417.3" y1="346.96" x2="419" y2="346.96" stroke="#555555" stroke-width="0.6"/>
<line x1="417.3" y1="345.16" x2="419" y2="345.16" stroke="#555555" stroke-width="0.6"/>
<line x1="417.3" y1="343.58" x2="419" y2="343.58" stroke="#555555" stroke-width="0.6"/>
<line x1="415.9" y1="342.17" x2="419" y2="342.17" stroke="#555555" stroke-width="0.8"/>
<line x1="417.3" y1="332.87" x2="419" y2="332.87" stroke="#555555" stroke-width="0.6"/>
<line x1="417.3" y1="327.44" x2="419" y2="327.44" stroke="#555555" stroke-width="0.6"/>
<line x1="417.3" y1="323.58" x2="419" y2="323.58" stroke="#555555" stroke-width="0.6"/>
<line x1="417.3" y1="320.58" x2="419" y2="320.58" stroke="#555555" stroke-width="0.6"/>
<line x1="417.3" y1="318.14" x2="419" y2="318.14" stroke="#555555" stroke-width="0.6"/>
<line x1="417.3" y1="316.07" x2="419" y2="316.07" stroke="#555555" stroke-width="0.6"/>
<line x1="417.3" y1="314.28" x2="419" y2="314.28" stroke="#555555" stroke-width="0.6"/>
<line x1="417.3" y1="312.7" x2="419" y2="312.7" stroke="#555555" stroke-width="0.6"/>
<line x1="415.9" y1="311.29" x2="419" y2="311.29" stroke="#555555" stroke-width="0.8"/>
<line x1="417.3" y1="301.99" x2="419" y2="301.99" stroke="#555555" stroke-width="0.6"/>
<line x1="417.3" y1="296.55" x2="419" y2="296.55" stroke="#555555" stroke-width="0.6"/>
<line x1="417.3" y1="292.69" x2="419" y2="292.69" stroke="#555555" stroke-width="0.6"/>
<line x1="417.3" y1="289.7" x2="419" y2="289.7" stroke="#555555" stroke-width="0.6"/>
<line x1="417.3" y1="287.25" x2="419" y2="287.25" stroke="#555555" stroke-width="0.6"/>
<line x1="417.3" y1="285.18" x2="419" y2="285.18" stroke="#555555" stroke-width="0.6"/>
<line x1="417.3" y1="283.39" x2="419" y2="283.39" stroke="#555555" stroke-width="0.6"/>
<line x1="417.3" y1="281.81" x2="419" y2="281.81" stroke="#555555" stroke-width="0.6"/>
<line x1="415.9" y1="280.4" x2="419" y2="280.4" stroke="#555555" stroke-width="0.8"/>
<line x1="419" y1="496.6" x2="419" y2="499.7" stroke="#555555" stroke-width="0.8"/>
<line x1="451.08" y1="496.6" x2="451.08" y2="499.7" stroke="#555555" stroke-width="0.8"/>
<line x1="483.16" y1="496.6" x2="483.16" y2="499.7" stroke="#555555" stroke-width="0.8"/>
<line x1="515.23" y1="496.6" x2="515.23" y2="499.7" stroke="#555555" stroke-width="0.8"/>
<line x1="547.31" y1="496.6" x2="547.31" y2="499.7" stroke="#555555" stroke-width="0.8"/>
<line x1="579.39" y1="496.6" x2="579.39" y2="499.7" stroke="#555555" stroke-width="0.8"/>
<line x1="611.47" y1="496.6" x2="611.47" y2="499.7" stroke="#555555" stroke-width="0.8"/>
<line x1="643.54" y1="496.6" x2="643.54" y2="499.7" stroke="#555555" stroke-width="0.8"/>
<line x1="675.62" y1="496.6" x2="675.62" y2="499.7" stroke="#555555" stroke-width="0.8"/>
<line x1="707.7" y1="496.6" x2="707.7" y2="499.7" stroke="#555555" stroke-width="0.8"/>
<rect x="419" y="280.4" width="288.7" height="216.2" fill="none" stroke="#555555" stroke-width="1.2"/></svg>
<svg width="718" height="526" viewBox="0 0 718 526" style="position:absolute;left:0;top:0;will-change:transform" font-family='&quot;Liberation Sans&quot;, sans-serif'><text x="84.3" y="25.1" font-size="9.7" text-anchor="start" fill="#000" textLength="53.6" lengthAdjust="spacingAndGlyphs" stroke="#000" stroke-width="0.2">Bouwens23</text>
<text x="84.3" y="38.4" font-size="9.7" text-anchor="start" fill="#000" textLength="47.6" lengthAdjust="spacingAndGlyphs" stroke="#000" stroke-width="0.2">Donnan23</text>
<text x="84.3" y="51.7" font-size="9.7" text-anchor="start" fill="#000" textLength="43" lengthAdjust="spacingAndGlyphs" stroke="#000" stroke-width="0.2">Adams23</text>
<text x="141" y="201.5" font-size="9.3" fill="#000" textLength="127.6" lengthAdjust="spacingAndGlyphs" stroke="#000" stroke-width="0.2">This work (<tspan font-style="italic">&#949;</tspan><tspan font-style="italic" font-size="6.5" dy="1.8">N</tspan><tspan dy="-1.8"> = 0.26 ~ 0.96)</tspan></text>
<text x="141" y="215.1" font-size="9.3" fill="#000" textLength="189.4" lengthAdjust="spacingAndGlyphs" stroke="#000" stroke-width="0.2">This work without dust (<tspan font-style="italic">&#949;</tspan><tspan font-style="italic" font-size="6.5" dy="1.8">N</tspan><tspan dy="-1.8"> = 0.08 ~ 0.49)</tspan></text>
<text x="452.9" y="25.1" font-size="9.7" text-anchor="start" fill="#000" textLength="60.6" lengthAdjust="spacingAndGlyphs" stroke="#000" stroke-width="0.2">Finkelstein23</text>
<text x="452.9" y="38.4" font-size="9.7" text-anchor="start" fill="#000" textLength="44.4" lengthAdjust="spacingAndGlyphs" stroke="#000" stroke-width="0.2">Mcleod23</text>
<text x="452.9" y="51.7" font-size="9.7" text-anchor="start" fill="#000" textLength="36.6" lengthAdjust="spacingAndGlyphs" stroke="#000" stroke-width="0.2">Pablo23</text>
<text x="510.4" y="201.7" font-size="9.3" fill="#000" textLength="127.6" lengthAdjust="spacingAndGlyphs" stroke="#000" stroke-width="0.2">This work (<tspan font-style="italic">&#949;</tspan><tspan font-style="italic" font-size="6.5" dy="1.8">N</tspan><tspan dy="-1.8"> = 0.46 ~ 0.98)</tspan></text>
<text x="510.4" y="215.3" font-size="9.3" fill="#000" textLength="189" lengthAdjust="spacingAndGlyphs" stroke="#000" stroke-width="0.2">This work without dust (<tspan font-style="italic">&#949;</tspan><tspan font-style="italic" font-size="6.5" dy="1.8">N</tspan><tspan dy="-1.8"> = 0.23 ~ 0.92)</tspan></text>
<text x="84.3" y="295.9" font-size="9.7" text-anchor="start" fill="#000" textLength="60.6" lengthAdjust="spacingAndGlyphs" stroke="#000" stroke-width="0.2">Finkelstein23</text>
<text x="84.3" y="309.33" font-size="9.7" text-anchor="start" fill="#000" textLength="36.4" lengthAdjust="spacingAndGlyphs" stroke="#000" stroke-width="0.2">Pablo23</text>
<text x="84.3" y="322.76" font-size="9.7" text-anchor="start" fill="#000" textLength="53.4" lengthAdjust="spacingAndGlyphs" stroke="#000" stroke-width="0.2">Bouwens23</text>
<text x="84.3" y="336.19" font-size="9.7" text-anchor="start" fill="#000" textLength="53" lengthAdjust="spacingAndGlyphs" stroke="#000" stroke-width="0.2">Harikane23</text>
<text x="84.3" y="349.62" font-size="9.7" text-anchor="start" fill="#000" textLength="54.3" lengthAdjust="spacingAndGlyphs" stroke="#000" stroke-width="0.2">Morishita23</text>
<text x="84.3" y="363.05" font-size="9.7" text-anchor="start" fill="#000" textLength="38.2" lengthAdjust="spacingAndGlyphs" stroke="#000" stroke-width="0.2">Naidu22</text>
<text x="84.3" y="376.48" font-size="9.7" text-anchor="start" fill="#000" textLength="42.9" lengthAdjust="spacingAndGlyphs" stroke="#000" stroke-width="0.2">Adams23</text>
<text x="142" y="473.1" font-size="9.3" fill="#000" textLength="127.6" lengthAdjust="spacingAndGlyphs" stroke="#000" stroke-width="0.2">This work (<tspan font-style="italic">&#949;</tspan><tspan font-style="italic" font-size="6.5" dy="1.8">N</tspan><tspan dy="-1.8"> = 0.12 ~ 0.97)</tspan></text>
<text x="142" y="486.7" font-size="9.3" fill="#000" textLength="189.4" lengthAdjust="spacingAndGlyphs" stroke="#000" stroke-width="0.2">This work without dust (<tspan font-style="italic">&#949;</tspan><tspan font-style="italic" font-size="6.5" dy="1.8">N</tspan><tspan dy="-1.8"> = 0.22 ~ 0.97)</tspan></text>
<text x="456.9" y="297.1" font-size="9.3" fill="#000" textLength="242.0" lengthAdjust="spacingAndGlyphs" stroke="#000" stroke-width="0.2">This work without dust (<tspan font-style="italic">&#949;</tspan><tspan font-style="italic" font-size="6.5" dy="1.8">N</tspan><tspan dy="-1.8"> = 0.2, </tspan><tspan font-style="italic">K</tspan><tspan font-size="6.5" dy="1.8">UV</tspan><tspan dy="-1.8"> = 2.80 &#215; 10</tspan><tspan font-size="6.5" dy="-3.6">&#8722;29</tspan><tspan dy="3.6">)</tspan></text>
<text x="456.9" y="312.7" font-size="9.3" fill="#000" textLength="242.0" lengthAdjust="spacingAndGlyphs" stroke="#000" stroke-width="0.2">This work without dust (<tspan font-style="italic">&#949;</tspan><tspan font-style="italic" font-size="6.5" dy="1.8">N</tspan><tspan dy="-1.8"> = 0.8, </tspan><tspan font-style="italic">K</tspan><tspan font-size="6.5" dy="1.8">UV</tspan><tspan dy="-1.8"> = 1.15 &#215; 10</tspan><tspan font-size="6.5" dy="-3.6">&#8722;28</tspan><tspan dy="3.6">)</tspan></text>
<text x="456.9" y="326.6" font-size="9.7" text-anchor="start" fill="#000" textLength="88.4" lengthAdjust="spacingAndGlyphs" stroke="#000" stroke-width="0.2">Harikane23 (z~13)</text>
<text x="456.9" y="340.6" font-size="9.7" text-anchor="start" fill="#000" textLength="83.4" lengthAdjust="spacingAndGlyphs" stroke="#000" stroke-width="0.2">Donnan23 (z~13)</text>
<text x="266.6" y="164.3" font-size="11" text-anchor="start" fill="#000" textLength="28.5" lengthAdjust="spacingAndGlyphs" stroke="#000" stroke-width="0.2">z~10</text>
<text x="635.4" y="164.4" font-size="11" text-anchor="start" fill="#000" textLength="28" lengthAdjust="spacingAndGlyphs" stroke="#000" stroke-width="0.2">z~11</text>
<text x="266.4" y="435" font-size="11" text-anchor="start" fill="#000" textLength="28.1" lengthAdjust="spacingAndGlyphs" stroke="#000" stroke-width="0.2">z~12</text>
<text x="643.5" y="435" font-size="11" text-anchor="start" fill="#000" textLength="28" lengthAdjust="spacingAndGlyphs" stroke="#000" stroke-width="0.2">z~13</text>
<text x="19.4" y="230.1" font-size="10.8" text-anchor="start" fill="#000" textLength="12.6" lengthAdjust="spacingAndGlyphs" stroke="#000" stroke-width="0.2">10</text>
<text x="34.1" y="226" font-size="8.6" text-anchor="start" fill="#000" textLength="10.2" lengthAdjust="spacingAndGlyphs" stroke="#000" stroke-width="0.2">&#8722;8</text>
<text x="19.4" y="199.21" font-size="10.8" text-anchor="start" fill="#000" textLength="12.6" lengthAdjust="spacingAndGlyphs" stroke="#000" stroke-width="0.2">10</text>
<text x="34.1" y="195.11" font-size="8.6" text-anchor="start" fill="#000" textLength="10.2" lengthAdjust="spacingAndGlyphs" stroke="#000" stroke-width="0.2">&#8722;7</text>
<text x="19.4" y="168.33" font-size="10.8" text-anchor="start" fill="#000" textLength="12.6" lengthAdjust="spacingAndGlyphs" stroke="#000" stroke-width="0.2">10</text>
<text x="34.1" y="164.23" font-size="8.6" text-anchor="start" fill="#000" textLength="10.2" lengthAdjust="spacingAndGlyphs" stroke="#000" stroke-width="0.2">&#8722;6</text>
<text x="19.4" y="137.44" font-size="10.8" text-anchor="start" fill="#000" textLength="12.6" lengthAdjust="spacingAndGlyphs" stroke="#000" stroke-width="0.2">10</text>
<text x="34.1" y="133.34" font-size="8.6" text-anchor="start" fill="#000" textLength="10.2" lengthAdjust="spacingAndGlyphs" stroke="#000" stroke-width="0.2">&#8722;5</text>
<text x="19.4" y="106.56" font-size="10.8" text-anchor="start" fill="#000" textLength="12.6" lengthAdjust="spacingAndGlyphs" stroke="#000" stroke-width="0.2">10</text>
<text x="34.1" y="102.46" font-size="8.6" text-anchor="start" fill="#000" textLength="10.2" lengthAdjust="spacingAndGlyphs" stroke="#000" stroke-width="0.2">&#8722;4</text>
<text x="19.4" y="75.67" font-size="10.8" text-anchor="start" fill="#000" textLength="12.6" lengthAdjust="spacingAndGlyphs" stroke="#000" stroke-width="0.2">10</text>
<text x="34.1" y="71.57" font-size="8.6" text-anchor="start" fill="#000" textLength="10.2" lengthAdjust="spacingAndGlyphs" stroke="#000" stroke-width="0.2">&#8722;3</text>
<text x="19.4" y="44.79" font-size="10.8" text-anchor="start" fill="#000" textLength="12.6" lengthAdjust="spacingAndGlyphs" stroke="#000" stroke-width="0.2">10</text>
<text x="34.1" y="40.69" font-size="8.6" text-anchor="start" fill="#000" textLength="10.2" lengthAdjust="spacingAndGlyphs" stroke="#000" stroke-width="0.2">&#8722;2</text>
<text x="19.4" y="13.9" font-size="10.8" text-anchor="start" fill="#000" textLength="12.6" lengthAdjust="spacingAndGlyphs" stroke="#000" stroke-width="0.2">10</text>
<text x="34.1" y="9.8" font-size="8.6" text-anchor="start" fill="#000" textLength="10.2" lengthAdjust="spacingAndGlyphs" stroke="#000" stroke-width="0.2">&#8722;1</text>
<text x="50.4" y="239.6" font-size="10.8" text-anchor="middle" fill="#000" textLength="22.4" lengthAdjust="spacingAndGlyphs" stroke="#000" stroke-width="0.2">&#8722;23</text>
<text x="86.49" y="239.6" font-size="10.8" text-anchor="middle" fill="#000" textLength="22.4" lengthAdjust="spacingAndGlyphs" stroke="#000" stroke-width="0.2">&#8722;22</text>
<text x="122.58" y="239.6" font-size="10.8" text-anchor="middle" fill="#000" textLength="22.4" lengthAdjust="spacingAndGlyphs" stroke="#000" stroke-width="0.2">&#8722;21</text>
<text x="158.66" y="239.6" font-size="10.8" text-anchor="middle" fill="#000" textLength="22.4" lengthAdjust="spacingAndGlyphs" stroke="#000" stroke-width="0.2">&#8722;20</text>
<text x="194.75" y="239.6" font-size="10.8" text-anchor="middle" fill="#000" textLength="22.4" lengthAdjust="spacingAndGlyphs" stroke="#000" stroke-width="0.2">&#8722;19</text>
<text x="230.84" y="239.6" font-size="10.8" text-anchor="middle" fill="#000" textLength="22.4" lengthAdjust="spacingAndGlyphs" stroke="#000" stroke-width="0.2">&#8722;18</text>
<text x="266.92" y="239.6" font-size="10.8" text-anchor="middle" fill="#000" textLength="22.4" lengthAdjust="spacingAndGlyphs" stroke="#000" stroke-width="0.2">&#8722;17</text>
<text x="303.01" y="239.6" font-size="10.8" text-anchor="middle" fill="#000" textLength="22.4" lengthAdjust="spacingAndGlyphs" stroke="#000" stroke-width="0.2">&#8722;16</text>
<text x="339.1" y="239.6" font-size="10.8" text-anchor="middle" fill="#000" textLength="22.4" lengthAdjust="spacingAndGlyphs" stroke="#000" stroke-width="0.2">&#8722;15</text>
<text x="166.75" y="252.4" font-size="9.4" fill="#000" textLength="54.6" lengthAdjust="spacingAndGlyphs" stroke="#000" stroke-width="0.2"><tspan font-style="italic" font-size="10.6">M</tspan><tspan font-size="7.0" dy="2.6">UV</tspan><tspan dy="-2.6" font-size="10.2"> (mag)</tspan></text>
<text transform="translate(13.4,117.4) rotate(-90)" font-size="9.4" text-anchor="middle" fill="#000" textLength="85.6" lengthAdjust="spacingAndGlyphs" stroke="#000" stroke-width="0.2">&#934; (Mpc<tspan font-size="6.6" dy="-3.6">&#8722;3</tspan><tspan dy="3.6">mag</tspan><tspan font-size="6.6" dy="-3.6">&#8722;1</tspan><tspan dy="3.6">)</tspan></text>
<text x="388.2" y="230.1" font-size="10.8" text-anchor="start" fill="#000" textLength="12.6" lengthAdjust="spacingAndGlyphs" stroke="#000" stroke-width="0.2">10</text>
<text x="402.9" y="226" font-size="8.6" text-anchor="start" fill="#000" textLength="10.2" lengthAdjust="spacingAndGlyphs" stroke="#000" stroke-width="0.2">&#8722;8</text>
<text x="388.2" y="199.21" font-size="10.8" text-anchor="start" fill="#000" textLength="12.6" lengthAdjust="spacingAndGlyphs" stroke="#000" stroke-width="0.2">10</text>
<text x="402.9" y="195.11" font-size="8.6" text-anchor="start" fill="#000" textLength="10.2" lengthAdjust="spacingAndGlyphs" stroke="#000" stroke-width="0.2">&#8722;7</text>
<text x="388.2" y="168.33" font-size="10.8" text-anchor="start" fill="#000" textLength="12.6" lengthAdjust="spacingAndGlyphs" stroke="#000" stroke-width="0.2">10</text>
<text x="402.9" y="164.23" font-size="8.6" text-anchor="start" fill="#000" textLength="10.2" lengthAdjust="spacingAndGlyphs" stroke="#000" stroke-width="0.2">&#8722;6</text>
<text x="388.2" y="137.44" font-size="10.8" text-anchor="start" fill="#000" textLength="12.6" lengthAdjust="spacingAndGlyphs" stroke="#000" stroke-width="0.2">10</text>
<text x="402.9" y="133.34" font-size="8.6" text-anchor="start" fill="#000" textLength="10.2" lengthAdjust="spacingAndGlyphs" stroke="#000" stroke-width="0.2">&#8722;5</text>
<text x="388.2" y="106.56" font-size="10.8" text-anchor="start" fill="#000" textLength="12.6" lengthAdjust="spacingAndGlyphs" stroke="#000" stroke-width="0.2">10</text>
<text x="402.9" y="102.46" font-size="8.6" text-anchor="start" fill="#000" textLength="10.2" lengthAdjust="spacingAndGlyphs" stroke="#000" stroke-width="0.2">&#8722;4</text>
<text x="388.2" y="75.67" font-size="10.8" text-anchor="start" fill="#000" textLength="12.6" lengthAdjust="spacingAndGlyphs" stroke="#000" stroke-width="0.2">10</text>
<text x="402.9" y="71.57" font-size="8.6" text-anchor="start" fill="#000" textLength="10.2" lengthAdjust="spacingAndGlyphs" stroke="#000" stroke-width="0.2">&#8722;3</text>
<text x="388.2" y="44.79" font-size="10.8" text-anchor="start" fill="#000" textLength="12.6" lengthAdjust="spacingAndGlyphs" stroke="#000" stroke-width="0.2">10</text>
<text x="402.9" y="40.69" font-size="8.6" text-anchor="start" fill="#000" textLength="10.2" lengthAdjust="spacingAndGlyphs" stroke="#000" stroke-width="0.2">&#8722;2</text>
<text x="388.2" y="13.9" font-size="10.8" text-anchor="start" fill="#000" textLength="12.6" lengthAdjust="spacingAndGlyphs" stroke="#000" stroke-width="0.2">10</text>
<text x="402.9" y="9.8" font-size="8.6" text-anchor="start" fill="#000" textLength="10.2" lengthAdjust="spacingAndGlyphs" stroke="#000" stroke-width="0.2">&#8722;1</text>
<text x="419.2" y="239.6" font-size="10.8" text-anchor="middle" fill="#000" textLength="22.4" lengthAdjust="spacingAndGlyphs" stroke="#000" stroke-width="0.2">&#8722;23</text>
<text x="455.29" y="239.6" font-size="10.8" text-anchor="middle" fill="#000" textLength="22.4" lengthAdjust="spacingAndGlyphs" stroke="#000" stroke-width="0.2">&#8722;22</text>
<text x="491.38" y="239.6" font-size="10.8" text-anchor="middle" fill="#000" textLength="22.4" lengthAdjust="spacingAndGlyphs" stroke="#000" stroke-width="0.2">&#8722;21</text>
<text x="527.46" y="239.6" font-size="10.8" text-anchor="middle" fill="#000" textLength="22.4" lengthAdjust="spacingAndGlyphs" stroke="#000" stroke-width="0.2">&#8722;20</text>
<text x="563.55" y="239.6" font-size="10.8" text-anchor="middle" fill="#000" textLength="22.4" lengthAdjust="spacingAndGlyphs" stroke="#000" stroke-width="0.2">&#8722;19</text>
<text x="599.64" y="239.6" font-size="10.8" text-anchor="middle" fill="#000" textLength="22.4" lengthAdjust="spacingAndGlyphs" stroke="#000" stroke-width="0.2">&#8722;18</text>
<text x="635.73" y="239.6" font-size="10.8" text-anchor="middle" fill="#000" textLength="22.4" lengthAdjust="spacingAndGlyphs" stroke="#000" stroke-width="0.2">&#8722;17</text>
<text x="671.81" y="239.6" font-size="10.8" text-anchor="middle" fill="#000" textLength="22.4" lengthAdjust="spacingAndGlyphs" stroke="#000" stroke-width="0.2">&#8722;16</text>
<text x="707.9" y="239.6" font-size="10.8" text-anchor="middle" fill="#000" textLength="22.4" lengthAdjust="spacingAndGlyphs" stroke="#000" stroke-width="0.2">&#8722;15</text>
<text x="535.55" y="252.4" font-size="9.4" fill="#000" textLength="54.6" lengthAdjust="spacingAndGlyphs" stroke="#000" stroke-width="0.2"><tspan font-style="italic" font-size="10.6">M</tspan><tspan font-size="7.0" dy="2.6">UV</tspan><tspan dy="-2.6" font-size="10.2"> (mag)</tspan></text>
<text transform="translate(382.2,117.4) rotate(-90)" font-size="9.4" text-anchor="middle" fill="#000" textLength="85.6" lengthAdjust="spacingAndGlyphs" stroke="#000" stroke-width="0.2">&#934; (Mpc<tspan font-size="6.6" dy="-3.6">&#8722;3</tspan><tspan dy="3.6">mag</tspan><tspan font-size="6.6" dy="-3.6">&#8722;1</tspan><tspan dy="3.6">)</tspan></text>
<text x="19.7" y="500.9" font-size="10.8" text-anchor="start" fill="#000" textLength="12.6" lengthAdjust="spacingAndGlyphs" stroke="#000" stroke-width="0.2">10</text>
<text x="34.4" y="496.8" font-size="8.6" text-anchor="start" fill="#000" textLength="10.2" lengthAdjust="spacingAndGlyphs" stroke="#000" stroke-width="0.2">&#8722;8</text>
<text x="19.7" y="470.01" font-size="10.8" text-anchor="start" fill="#000" textLength="12.6" lengthAdjust="spacingAndGlyphs" stroke="#000" stroke-width="0.2">10</text>
<text x="34.4" y="465.91" font-size="8.6" text-anchor="start" fill="#000" textLength="10.2" lengthAdjust="spacingAndGlyphs" stroke="#000" stroke-width="0.2">&#8722;7</text>
<text x="19.7" y="439.13" font-size="10.8" text-anchor="start" fill="#000" textLength="12.6" lengthAdjust="spacingAndGlyphs" stroke="#000" stroke-width="0.2">10</text>
<text x="34.4" y="435.03" font-size="8.6" text-anchor="start" fill="#000" textLength="10.2" lengthAdjust="spacingAndGlyphs" stroke="#000" stroke-width="0.2">&#8722;6</text>
<text x="19.7" y="408.24" font-size="10.8" text-anchor="start" fill="#000" textLength="12.6" lengthAdjust="spacingAndGlyphs" stroke="#000" stroke-width="0.2">10</text>
<text x="34.4" y="404.14" font-size="8.6" text-anchor="start" fill="#000" textLength="10.2" lengthAdjust="spacingAndGlyphs" stroke="#000" stroke-width="0.2">&#8722;5</text>
<text x="19.7" y="377.36" font-size="10.8" text-anchor="start" fill="#000" textLength="12.6" lengthAdjust="spacingAndGlyphs" stroke="#000" stroke-width="0.2">10</text>
<text x="34.4" y="373.26" font-size="8.6" text-anchor="start" fill="#000" textLength="10.2" lengthAdjust="spacingAndGlyphs" stroke="#000" stroke-width="0.2">&#8722;4</text>
<text x="19.7" y="346.47" font-size="10.8" text-anchor="start" fill="#000" textLength="12.6" lengthAdjust="spacingAndGlyphs" stroke="#000" stroke-width="0.2">10</text>
<text x="34.4" y="342.37" font-size="8.6" text-anchor="start" fill="#000" textLength="10.2" lengthAdjust="spacingAndGlyphs" stroke="#000" stroke-width="0.2">&#8722;3</text>
<text x="19.7" y="315.59" font-size="10.8" text-anchor="start" fill="#000" textLength="12.6" lengthAdjust="spacingAndGlyphs" stroke="#000" stroke-width="0.2">10</text>
<text x="34.4" y="311.49" font-size="8.6" text-anchor="start" fill="#000" textLength="10.2" lengthAdjust="spacingAndGlyphs" stroke="#000" stroke-width="0.2">&#8722;2</text>
<text x="19.7" y="284.7" font-size="10.8" text-anchor="start" fill="#000" textLength="12.6" lengthAdjust="spacingAndGlyphs" stroke="#000" stroke-width="0.2">10</text>
<text x="34.4" y="280.6" font-size="8.6" text-anchor="start" fill="#000" textLength="10.2" lengthAdjust="spacingAndGlyphs" stroke="#000" stroke-width="0.2">&#8722;1</text>
<text x="50.7" y="510.4" font-size="10.8" text-anchor="middle" fill="#000" textLength="22.4" lengthAdjust="spacingAndGlyphs" stroke="#000" stroke-width="0.2">&#8722;23</text>
<text x="86.79" y="510.4" font-size="10.8" text-anchor="middle" fill="#000" textLength="22.4" lengthAdjust="spacingAndGlyphs" stroke="#000" stroke-width="0.2">&#8722;22</text>
<text x="122.88" y="510.4" font-size="10.8" text-anchor="middle" fill="#000" textLength="22.4" lengthAdjust="spacingAndGlyphs" stroke="#000" stroke-width="0.2">&#8722;21</text>
<text x="158.96" y="510.4" font-size="10.8" text-anchor="middle" fill="#000" textLength="22.4" lengthAdjust="spacingAndGlyphs" stroke="#000" stroke-width="0.2">&#8722;20</text>
<text x="195.05" y="510.4" font-size="10.8" text-anchor="middle" fill="#000" textLength="22.4" lengthAdjust="spacingAndGlyphs" stroke="#000" stroke-width="0.2">&#8722;19</text>
<text x="231.14" y="510.4" font-size="10.8" text-anchor="middle" fill="#000" textLength="22.4" lengthAdjust="spacingAndGlyphs" stroke="#000" stroke-width="0.2">&#8722;18</text>
<text x="267.22" y="510.4" font-size="10.8" text-anchor="middle" fill="#000" textLength="22.4" lengthAdjust="spacingAndGlyphs" stroke="#000" stroke-width="0.2">&#8722;17</text>
<text x="303.31" y="510.4" font-size="10.8" text-anchor="middle" fill="#000" textLength="22.4" lengthAdjust="spacingAndGlyphs" stroke="#000" stroke-width="0.2">&#8722;16</text>
<text x="339.4" y="510.4" font-size="10.8" text-anchor="middle" fill="#000" textLength="22.4" lengthAdjust="spacingAndGlyphs" stroke="#000" stroke-width="0.2">&#8722;15</text>
<text x="167.05" y="523.2" font-size="9.4" fill="#000" textLength="54.6" lengthAdjust="spacingAndGlyphs" stroke="#000" stroke-width="0.2"><tspan font-style="italic" font-size="10.6">M</tspan><tspan font-size="7.0" dy="2.6">UV</tspan><tspan dy="-2.6" font-size="10.2"> (mag)</tspan></text>
<text transform="translate(13.7,388.2) rotate(-90)" font-size="9.4" text-anchor="middle" fill="#000" textLength="85.6" lengthAdjust="spacingAndGlyphs" stroke="#000" stroke-width="0.2">&#934; (Mpc<tspan font-size="6.6" dy="-3.6">&#8722;3</tspan><tspan dy="3.6">mag</tspan><tspan font-size="6.6" dy="-3.6">&#8722;1</tspan><tspan dy="3.6">)</tspan></text>
<text x="388.4" y="500.9" font-size="10.8" text-anchor="start" fill="#000" textLength="12.6" lengthAdjust="spacingAndGlyphs" stroke="#000" stroke-width="0.2">10</text>
<text x="403.1" y="496.8" font-size="8.6" text-anchor="start" fill="#000" textLength="10.2" lengthAdjust="spacingAndGlyphs" stroke="#000" stroke-width="0.2">&#8722;8</text>
<text x="388.4" y="470.01" font-size="10.8" text-anchor="start" fill="#000" textLength="12.6" lengthAdjust="spacingAndGlyphs" stroke="#000" stroke-width="0.2">10</text>
<text x="403.1" y="465.91" font-size="8.6" text-anchor="start" fill="#000" textLength="10.2" lengthAdjust="spacingAndGlyphs" stroke="#000" stroke-width="0.2">&#8722;7</text>
<text x="388.4" y="439.13" font-size="10.8" text-anchor="start" fill="#000" textLength="12.6" lengthAdjust="spacingAndGlyphs" stroke="#000" stroke-width="0.2">10</text>
<text x="403.1" y="435.03" font-size="8.6" text-anchor="start" fill="#000" textLength="10.2" lengthAdjust="spacingAndGlyphs" stroke="#000" stroke-width="0.2">&#8722;6</text>
<text x="388.4" y="408.24" font-size="10.8" text-anchor="start" fill="#000" textLength="12.6" lengthAdjust="spacingAndGlyphs" stroke="#000" stroke-width="0.2">10</text>
<text x="403.1" y="404.14" font-size="8.6" text-anchor="start" fill="#000" textLength="10.2" lengthAdjust="spacingAndGlyphs" stroke="#000" stroke-width="0.2">&#8722;5</text>
<text x="388.4" y="377.36" font-size="10.8" text-anchor="start" fill="#000" textLength="12.6" lengthAdjust="spacingAndGlyphs" stroke="#000" stroke-width="0.2">10</text>
<text x="403.1" y="373.26" font-size="8.6" text-anchor="start" fill="#000" textLength="10.2" lengthAdjust="spacingAndGlyphs" stroke="#000" stroke-width="0.2">&#8722;4</text>
<text x="388.4" y="346.47" font-size="10.8" text-anchor="start" fill="#000" textLength="12.6" lengthAdjust="spacingAndGlyphs" stroke="#000" stroke-width="0.2">10</text>
<text x="403.1" y="342.37" font-size="8.6" text-anchor="start" fill="#000" textLength="10.2" lengthAdjust="spacingAndGlyphs" stroke="#000" stroke-width="0.2">&#8722;3</text>
<text x="388.4" y="315.59" font-size="10.8" text-anchor="start" fill="#000" textLength="12.6" lengthAdjust="spacingAndGlyphs" stroke="#000" stroke-width="0.2">10</text>
<text x="403.1" y="311.49" font-size="8.6" text-anchor="start" fill="#000" textLength="10.2" lengthAdjust="spacingAndGlyphs" stroke="#000" stroke-width="0.2">&#8722;2</text>
<text x="388.4" y="284.7" font-size="10.8" text-anchor="start" fill="#000" textLength="12.6" lengthAdjust="spacingAndGlyphs" stroke="#000" stroke-width="0.2">10</text>
<text x="403.1" y="280.6" font-size="8.6" text-anchor="start" fill="#000" textLength="10.2" lengthAdjust="spacingAndGlyphs" stroke="#000" stroke-width="0.2">&#8722;1</text>
<text x="419.4" y="510.4" font-size="10.8" text-anchor="middle" fill="#000" textLength="22.4" lengthAdjust="spacingAndGlyphs" stroke="#000" stroke-width="0.2">&#8722;24</text>
<text x="451.48" y="510.4" font-size="10.8" text-anchor="middle" fill="#000" textLength="22.4" lengthAdjust="spacingAndGlyphs" stroke="#000" stroke-width="0.2">&#8722;23</text>
<text x="483.56" y="510.4" font-size="10.8" text-anchor="middle" fill="#000" textLength="22.4" lengthAdjust="spacingAndGlyphs" stroke="#000" stroke-width="0.2">&#8722;22</text>
<text x="515.63" y="510.4" font-size="10.8" text-anchor="middle" fill="#000" textLength="22.4" lengthAdjust="spacingAndGlyphs" stroke="#000" stroke-width="0.2">&#8722;21</text>
<text x="547.71" y="510.4" font-size="10.8" text-anchor="middle" fill="#000" textLength="22.4" lengthAdjust="spacingAndGlyphs" stroke="#000" stroke-width="0.2">&#8722;20</text>
<text x="579.79" y="510.4" font-size="10.8" text-anchor="middle" fill="#000" textLength="22.4" lengthAdjust="spacingAndGlyphs" stroke="#000" stroke-width="0.2">&#8722;19</text>
<text x="611.87" y="510.4" font-size="10.8" text-anchor="middle" fill="#000" textLength="22.4" lengthAdjust="spacingAndGlyphs" stroke="#000" stroke-width="0.2">&#8722;18</text>
<text x="643.94" y="510.4" font-size="10.8" text-anchor="middle" fill="#000" textLength="22.4" lengthAdjust="spacingAndGlyphs" stroke="#000" stroke-width="0.2">&#8722;17</text>
<text x="676.02" y="510.4" font-size="10.8" text-anchor="middle" fill="#000" textLength="22.4" lengthAdjust="spacingAndGlyphs" stroke="#000" stroke-width="0.2">&#8722;16</text>
<text x="708.1" y="510.4" font-size="10.8" text-anchor="middle" fill="#000" textLength="22.4" lengthAdjust="spacingAndGlyphs" stroke="#000" stroke-width="0.2">&#8722;15</text>
<text x="535.75" y="523.2" font-size="9.4" fill="#000" textLength="54.6" lengthAdjust="spacingAndGlyphs" stroke="#000" stroke-width="0.2"><tspan font-style="italic" font-size="10.6">M</tspan><tspan font-size="7.0" dy="2.6">UV</tspan><tspan dy="-2.6" font-size="10.2"> (mag)</tspan></text>
<text transform="translate(382.4,388.2) rotate(-90)" font-size="9.4" text-anchor="middle" fill="#000" textLength="85.6" lengthAdjust="spacingAndGlyphs" stroke="#000" stroke-width="0.2">&#934; (Mpc<tspan font-size="6.6" dy="-3.6">&#8722;3</tspan><tspan dy="3.6">mag</tspan><tspan font-size="6.6" dy="-3.6">&#8722;1</tspan><tspan dy="3.6">)</tspan></text></svg>
</body></html>
